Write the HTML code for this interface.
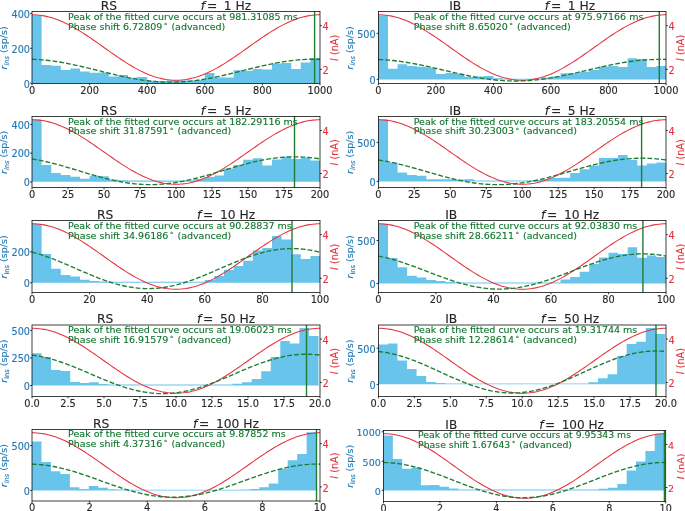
<!DOCTYPE html>
<html><head><meta charset="utf-8"><title>Phase response</title>
<style>html,body{margin:0;padding:0;background:#fff;width:685px;height:511px;overflow:hidden}svg{display:block}text{stroke-width:0.22px;stroke-opacity:0.55}</style>
</head><body>
<svg width="685" height="511" viewBox="0 0 685 511" font-family="'DejaVu Sans', 'Liberation Sans', sans-serif">
<g><path d="M32 15.3h9.6v67.9h-9.6zM41.6 65.1h9.6v18.1h-9.6zM51.2 65.7h9.6v17.5h-9.6zM60.8 69.9h9.6v13.3h-9.6zM70.4 68.6h9.6v14.6h-9.6zM80 71.4h9.6v11.8h-9.6zM89.6 72.8h9.6v10.4h-9.6zM99.2 72.5h9.6v10.7h-9.6zM108.8 76.5h9.6v6.7h-9.6zM118.4 75h9.6v8.2h-9.6zM128 77.8h9.6v5.4h-9.6zM137.6 76.9h9.6v6.3h-9.6zM147.2 80.7h9.6v2.5h-9.6zM156.8 81.1h9.6v2.1h-9.6zM166.4 80.3h9.6v2.9h-9.6zM176 80.3h9.6v2.9h-9.6zM185.6 80.5h9.6v2.7h-9.6zM195.2 79.9h9.6v3.3h-9.6zM204.8 73.1h9.6v10.1h-9.6zM214.4 77.5h9.6v5.7h-9.6zM224 77.6h9.6v5.6h-9.6zM233.6 70.2h9.6v13h-9.6zM243.2 70.8h9.6v12.4h-9.6zM252.8 68.9h9.6v14.3h-9.6zM262.4 69.6h9.6v13.6h-9.6zM272 63.4h9.6v19.8h-9.6zM281.6 63.1h9.6v20.1h-9.6zM291.2 68.9h9.6v14.3h-9.6zM300.8 62.6h9.6v20.6h-9.6zM310.4 58.2h9.6v25h-9.6z" fill="#68c4eb"/>
<polyline points="32,14.77 34.4,14.82 36.8,14.95 39.2,15.18 41.6,15.49 44,15.89 46.4,16.37 48.8,16.95 51.2,17.6 53.6,18.34 56,19.16 58.4,20.05 60.8,21.02 63.2,22.07 65.6,23.18 68,24.36 70.4,25.6 72.8,26.9 75.2,28.26 77.6,29.68 80,31.14 82.4,32.64 84.8,34.19 87.2,35.77 89.6,37.39 92,39.03 94.4,40.7 96.8,42.38 99.2,44.08 101.6,45.79 104,47.5 106.4,49.21 108.8,50.92 111.2,52.62 113.6,54.3 116,55.97 118.4,57.61 120.8,59.23 123.2,60.81 125.6,62.36 128,63.86 130.4,65.32 132.8,66.74 135.2,68.1 137.6,69.4 140,70.64 142.4,71.82 144.8,72.93 147.2,73.98 149.6,74.95 152,75.84 154.4,76.66 156.8,77.4 159.2,78.05 161.6,78.63 164,79.11 166.4,79.51 168.8,79.82 171.2,80.05 173.6,80.18 176,80.23 178.4,80.18 180.8,80.05 183.2,79.82 185.6,79.51 188,79.11 190.4,78.63 192.8,78.05 195.2,77.4 197.6,76.66 200,75.84 202.4,74.95 204.8,73.98 207.2,72.93 209.6,71.82 212,70.64 214.4,69.4 216.8,68.1 219.2,66.74 221.6,65.32 224,63.86 226.4,62.36 228.8,60.81 231.2,59.23 233.6,57.61 236,55.97 238.4,54.3 240.8,52.62 243.2,50.92 245.6,49.21 248,47.5 250.4,45.79 252.8,44.08 255.2,42.38 257.6,40.7 260,39.03 262.4,37.39 264.8,35.77 267.2,34.19 269.6,32.64 272,31.14 274.4,29.68 276.8,28.26 279.2,26.9 281.6,25.6 284,24.36 286.4,23.18 288.8,22.07 291.2,21.02 293.6,20.05 296,19.16 298.4,18.34 300.8,17.6 303.2,16.95 305.6,16.37 308,15.89 310.4,15.49 312.8,15.18 315.2,14.95 317.6,14.82 320,14.77" fill="none" stroke="#e5323c" stroke-width="1.05"/>
<polyline points="32,59.28 34.4,59.37 36.8,59.48 39.2,59.63 41.6,59.81 44,60.02 46.4,60.26 48.8,60.52 51.2,60.82 53.6,61.14 56,61.49 58.4,61.86 60.8,62.26 63.2,62.68 65.6,63.12 68,63.58 70.4,64.06 72.8,64.56 75.2,65.08 77.6,65.61 80,66.16 82.4,66.72 84.8,67.29 87.2,67.87 89.6,68.46 92,69.05 94.4,69.65 96.8,70.25 99.2,70.85 101.6,71.45 104,72.05 106.4,72.65 108.8,73.24 111.2,73.82 113.6,74.4 116,74.96 118.4,75.51 120.8,76.05 123.2,76.58 125.6,77.09 128,77.58 130.4,78.05 132.8,78.51 135.2,78.94 137.6,79.35 140,79.73 142.4,80.09 144.8,80.43 147.2,80.73 149.6,81.01 152,81.27 154.4,81.49 156.8,81.68 159.2,81.85 161.6,81.98 164,82.08 166.4,82.15 168.8,82.19 171.2,82.2 173.6,82.18 176,82.12 178.4,82.03 180.8,81.92 183.2,81.77 185.6,81.59 188,81.38 190.4,81.14 192.8,80.88 195.2,80.58 197.6,80.26 200,79.91 202.4,79.54 204.8,79.14 207.2,78.72 209.6,78.28 212,77.82 214.4,77.34 216.8,76.84 219.2,76.32 221.6,75.79 224,75.24 226.4,74.68 228.8,74.11 231.2,73.53 233.6,72.94 236,72.35 238.4,71.75 240.8,71.15 243.2,70.55 245.6,69.95 248,69.35 250.4,68.75 252.8,68.16 255.2,67.58 257.6,67 260,66.44 262.4,65.89 264.8,65.35 267.2,64.82 269.6,64.31 272,63.82 274.4,63.35 276.8,62.89 279.2,62.46 281.6,62.05 284,61.67 286.4,61.31 288.8,60.97 291.2,60.67 293.6,60.39 296,60.13 298.4,59.91 300.8,59.72 303.2,59.55 305.6,59.42 308,59.32 310.4,59.25 312.8,59.21 315.2,59.2 317.6,59.22 320,59.28" fill="none" stroke="#1e7d32" stroke-width="1.35" stroke-dasharray="4.8 2.07"/>
<line x1="314.6" y1="11.5" x2="314.6" y2="83.5" stroke="#1e7d32" stroke-width="1.4"/>
<rect x="32" y="11.5" width="288" height="72" fill="none" stroke="#000" stroke-width="0.75"/>
<line x1="32" y1="83.5" x2="32" y2="85.3" stroke="#000" stroke-width="0.8"/>
<text x="32" y="93.8" text-anchor="middle" font-size="9.8" fill="#262626" stroke="#262626">0</text>
<line x1="89.6" y1="83.5" x2="89.6" y2="85.3" stroke="#000" stroke-width="0.8"/>
<text x="89.6" y="93.8" text-anchor="middle" font-size="9.8" fill="#262626" stroke="#262626">200</text>
<line x1="147.2" y1="83.5" x2="147.2" y2="85.3" stroke="#000" stroke-width="0.8"/>
<text x="147.2" y="93.8" text-anchor="middle" font-size="9.8" fill="#262626" stroke="#262626">400</text>
<line x1="204.8" y1="83.5" x2="204.8" y2="85.3" stroke="#000" stroke-width="0.8"/>
<text x="204.8" y="93.8" text-anchor="middle" font-size="9.8" fill="#262626" stroke="#262626">600</text>
<line x1="262.4" y1="83.5" x2="262.4" y2="85.3" stroke="#000" stroke-width="0.8"/>
<text x="262.4" y="93.8" text-anchor="middle" font-size="9.8" fill="#262626" stroke="#262626">800</text>
<line x1="320" y1="83.5" x2="320" y2="85.3" stroke="#000" stroke-width="0.8"/>
<text x="320" y="93.8" text-anchor="middle" font-size="9.8" fill="#262626" stroke="#262626">1000</text>
<line x1="30.2" y1="83.2" x2="32" y2="83.2" stroke="#000" stroke-width="0.8"/>
<text x="30" y="87.5" text-anchor="end" font-size="9.7" fill="#1f77b4" stroke="#1f77b4">0</text>
<line x1="30.2" y1="48.3" x2="32" y2="48.3" stroke="#000" stroke-width="0.8"/>
<text x="30" y="52.6" text-anchor="end" font-size="9.7" fill="#1f77b4" stroke="#1f77b4">200</text>
<line x1="30.2" y1="13.3" x2="32" y2="13.3" stroke="#000" stroke-width="0.8"/>
<text x="30" y="17.6" text-anchor="end" font-size="9.7" fill="#1f77b4" stroke="#1f77b4">400</text>
<line x1="320" y1="25.68" x2="321.8" y2="25.68" stroke="#000" stroke-width="0.8"/>
<text x="322.4" y="30.48" font-size="9.7" fill="#e5323c" stroke="#e5323c">4</text>
<line x1="320" y1="69.32" x2="321.8" y2="69.32" stroke="#000" stroke-width="0.8"/>
<text x="322.4" y="74.12" font-size="9.7" fill="#e5323c" stroke="#e5323c">2</text>
<text transform="translate(6.9 47.9) rotate(-90)" text-anchor="middle" font-size="9.5" fill="#1f77b4" stroke="#1f77b4"><tspan font-style="italic">r</tspan><tspan font-style="italic" font-size="6.65" dy="2.4">ins</tspan><tspan dy="-2.4"> (sp/s)</tspan></text>
<text transform="translate(338 47.9) rotate(-90)" text-anchor="middle" font-size="9.7" fill="#e5323c" stroke="#e5323c"><tspan font-style="italic">I</tspan> (nA)</text>
<text x="100.8" y="9.6" font-size="12.3" fill="#262626" stroke="#262626">RS</text>
<text x="200.8" y="9.6" font-size="12.3" fill="#262626" stroke="#262626" font-style="italic">f</text>
<text x="206.9" y="9.6" font-size="12.3" fill="#262626" stroke="#262626">=</text>
<text x="223.8" y="9.6" font-size="12.3" fill="#262626" stroke="#262626">1 Hz</text>
<text x="68.1" y="20" font-size="9.5" fill="#0f752d" stroke="#0f752d">Peak of the fitted curve occurs at 981.31085 ms</text>
<text x="68.1" y="29.8" font-size="9.5" fill="#0f752d" stroke="#0f752d" xml:space="preserve">Phase shift 6.72809<tspan font-size="6.8" dx="1.2" dy="-3.6">∘</tspan><tspan dx="0.6" dy="3.6"> (advanced)</tspan></text></g>
<g><path d="M32 119.5h9.6v62.3h-9.6zM41.6 164.9h9.6v16.9h-9.6zM51.2 173.1h9.6v8.7h-9.6zM60.8 175h9.6v6.8h-9.6zM70.4 176.8h9.6v5h-9.6zM80 178.7h9.6v3.1h-9.6zM89.6 175.8h9.6v6h-9.6zM99.2 176.2h9.6v5.6h-9.6zM108.8 179.5h9.6v2.3h-9.6zM118.4 180.2h9.6v1.6h-9.6zM128 180.4h9.6v1.4h-9.6zM137.6 180.4h9.6v1.4h-9.6zM147.2 180.4h9.6v1.4h-9.6zM156.8 180.4h9.6v1.4h-9.6zM166.4 180.5h9.6v1.3h-9.6zM176 180.5h9.6v1.3h-9.6zM185.6 180.2h9.6v1.6h-9.6zM195.2 178.9h9.6v2.9h-9.6zM204.8 177h9.6v4.8h-9.6zM214.4 175.5h9.6v6.3h-9.6zM224 168.5h9.6v13.3h-9.6zM233.6 165.1h9.6v16.7h-9.6zM243.2 159.7h9.6v22.1h-9.6zM252.8 158.2h9.6v23.6h-9.6zM262.4 165.5h9.6v16.3h-9.6zM272 159.4h9.6v22.4h-9.6zM281.6 156.8h9.6v25h-9.6zM291.2 159h9.6v22.8h-9.6zM300.8 157.5h9.6v24.3h-9.6zM310.4 160.4h9.6v21.4h-9.6z" fill="#68c4eb"/>
<polyline points="32,119.73 34.4,119.77 36.8,119.9 39.2,120.12 41.6,120.43 44,120.83 46.4,121.31 48.8,121.87 51.2,122.52 53.6,123.24 56,124.05 58.4,124.93 60.8,125.89 63.2,126.92 65.6,128.02 68,129.18 70.4,130.41 72.8,131.69 75.2,133.03 77.6,134.42 80,135.86 82.4,137.35 84.8,138.87 87.2,140.43 89.6,142.03 92,143.65 94.4,145.29 96.8,146.95 99.2,148.63 101.6,150.31 104,152 106.4,153.69 108.8,155.37 111.2,157.05 113.6,158.71 116,160.35 118.4,161.97 120.8,163.57 123.2,165.13 125.6,166.65 128,168.14 130.4,169.58 132.8,170.97 135.2,172.31 137.6,173.59 140,174.82 142.4,175.98 144.8,177.08 147.2,178.11 149.6,179.07 152,179.95 154.4,180.76 156.8,181.48 159.2,182.13 161.6,182.69 164,183.17 166.4,183.57 168.8,183.88 171.2,184.1 173.6,184.23 176,184.27 178.4,184.23 180.8,184.1 183.2,183.88 185.6,183.57 188,183.17 190.4,182.69 192.8,182.13 195.2,181.48 197.6,180.76 200,179.95 202.4,179.07 204.8,178.11 207.2,177.08 209.6,175.98 212,174.82 214.4,173.59 216.8,172.31 219.2,170.97 221.6,169.58 224,168.14 226.4,166.65 228.8,165.13 231.2,163.57 233.6,161.97 236,160.35 238.4,158.71 240.8,157.05 243.2,155.37 245.6,153.69 248,152 250.4,150.31 252.8,148.63 255.2,146.95 257.6,145.29 260,143.65 262.4,142.03 264.8,140.43 267.2,138.87 269.6,137.35 272,135.86 274.4,134.42 276.8,133.03 279.2,131.69 281.6,130.41 284,129.18 286.4,128.02 288.8,126.92 291.2,125.89 293.6,124.93 296,124.05 298.4,123.24 300.8,122.52 303.2,121.87 305.6,121.31 308,120.83 310.4,120.43 312.8,120.12 315.2,119.9 317.6,119.77 320,119.73" fill="none" stroke="#e5323c" stroke-width="1.05"/>
<polyline points="32,158.9 34.4,159.3 36.8,159.73 39.2,160.19 41.6,160.68 44,161.2 46.4,161.74 48.8,162.31 51.2,162.9 53.6,163.51 56,164.15 58.4,164.8 60.8,165.46 63.2,166.15 65.6,166.84 68,167.54 70.4,168.26 72.8,168.98 75.2,169.7 77.6,170.43 80,171.15 82.4,171.88 84.8,172.6 87.2,173.32 89.6,174.03 92,174.73 94.4,175.43 96.8,176.1 99.2,176.77 101.6,177.41 104,178.04 106.4,178.65 108.8,179.23 111.2,179.8 113.6,180.33 116,180.85 118.4,181.33 120.8,181.78 123.2,182.21 125.6,182.6 128,182.96 130.4,183.28 132.8,183.58 135.2,183.83 137.6,184.05 140,184.24 142.4,184.38 144.8,184.49 147.2,184.56 149.6,184.6 152,184.59 154.4,184.55 156.8,184.47 159.2,184.35 161.6,184.19 164,184 166.4,183.77 168.8,183.51 171.2,183.21 173.6,182.87 176,182.5 178.4,182.1 180.8,181.67 183.2,181.21 185.6,180.72 188,180.2 190.4,179.66 192.8,179.09 195.2,178.5 197.6,177.89 200,177.25 202.4,176.6 204.8,175.94 207.2,175.25 209.6,174.56 212,173.86 214.4,173.14 216.8,172.42 219.2,171.7 221.6,170.97 224,170.25 226.4,169.52 228.8,168.8 231.2,168.08 233.6,167.37 236,166.67 238.4,165.97 240.8,165.3 243.2,164.63 245.6,163.99 248,163.36 250.4,162.75 252.8,162.17 255.2,161.6 257.6,161.07 260,160.55 262.4,160.07 264.8,159.62 267.2,159.19 269.6,158.8 272,158.44 274.4,158.12 276.8,157.82 279.2,157.57 281.6,157.35 284,157.16 286.4,157.02 288.8,156.91 291.2,156.84 293.6,156.8 296,156.81 298.4,156.85 300.8,156.93 303.2,157.05 305.6,157.21 308,157.4 310.4,157.63 312.8,157.89 315.2,158.19 317.6,158.53 320,158.9" fill="none" stroke="#1e7d32" stroke-width="1.35" stroke-dasharray="4.8 2.07"/>
<line x1="294.5" y1="116.5" x2="294.5" y2="187.5" stroke="#1e7d32" stroke-width="1.4"/>
<rect x="32" y="116.5" width="288" height="71" fill="none" stroke="#000" stroke-width="0.75"/>
<line x1="32" y1="187.5" x2="32" y2="189.3" stroke="#000" stroke-width="0.8"/>
<text x="32" y="197.8" text-anchor="middle" font-size="9.8" fill="#262626" stroke="#262626">0</text>
<line x1="68" y1="187.5" x2="68" y2="189.3" stroke="#000" stroke-width="0.8"/>
<text x="68" y="197.8" text-anchor="middle" font-size="9.8" fill="#262626" stroke="#262626">25</text>
<line x1="104" y1="187.5" x2="104" y2="189.3" stroke="#000" stroke-width="0.8"/>
<text x="104" y="197.8" text-anchor="middle" font-size="9.8" fill="#262626" stroke="#262626">50</text>
<line x1="140" y1="187.5" x2="140" y2="189.3" stroke="#000" stroke-width="0.8"/>
<text x="140" y="197.8" text-anchor="middle" font-size="9.8" fill="#262626" stroke="#262626">75</text>
<line x1="176" y1="187.5" x2="176" y2="189.3" stroke="#000" stroke-width="0.8"/>
<text x="176" y="197.8" text-anchor="middle" font-size="9.8" fill="#262626" stroke="#262626">100</text>
<line x1="212" y1="187.5" x2="212" y2="189.3" stroke="#000" stroke-width="0.8"/>
<text x="212" y="197.8" text-anchor="middle" font-size="9.8" fill="#262626" stroke="#262626">125</text>
<line x1="248" y1="187.5" x2="248" y2="189.3" stroke="#000" stroke-width="0.8"/>
<text x="248" y="197.8" text-anchor="middle" font-size="9.8" fill="#262626" stroke="#262626">150</text>
<line x1="284" y1="187.5" x2="284" y2="189.3" stroke="#000" stroke-width="0.8"/>
<text x="284" y="197.8" text-anchor="middle" font-size="9.8" fill="#262626" stroke="#262626">175</text>
<line x1="320" y1="187.5" x2="320" y2="189.3" stroke="#000" stroke-width="0.8"/>
<text x="320" y="197.8" text-anchor="middle" font-size="9.8" fill="#262626" stroke="#262626">200</text>
<line x1="30.2" y1="182" x2="32" y2="182" stroke="#000" stroke-width="0.8"/>
<text x="30" y="186.3" text-anchor="end" font-size="9.7" fill="#1f77b4" stroke="#1f77b4">0</text>
<line x1="30.2" y1="153.1" x2="32" y2="153.1" stroke="#000" stroke-width="0.8"/>
<text x="30" y="157.4" text-anchor="end" font-size="9.7" fill="#1f77b4" stroke="#1f77b4">200</text>
<line x1="30.2" y1="124.3" x2="32" y2="124.3" stroke="#000" stroke-width="0.8"/>
<text x="30" y="128.6" text-anchor="end" font-size="9.7" fill="#1f77b4" stroke="#1f77b4">400</text>
<line x1="320" y1="130.49" x2="321.8" y2="130.49" stroke="#000" stroke-width="0.8"/>
<text x="322.4" y="135.29" font-size="9.7" fill="#e5323c" stroke="#e5323c">4</text>
<line x1="320" y1="173.51" x2="321.8" y2="173.51" stroke="#000" stroke-width="0.8"/>
<text x="322.4" y="178.31" font-size="9.7" fill="#e5323c" stroke="#e5323c">2</text>
<text transform="translate(6.9 152.4) rotate(-90)" text-anchor="middle" font-size="9.5" fill="#1f77b4" stroke="#1f77b4"><tspan font-style="italic">r</tspan><tspan font-style="italic" font-size="6.65" dy="2.4">ins</tspan><tspan dy="-2.4"> (sp/s)</tspan></text>
<text transform="translate(338 152.4) rotate(-90)" text-anchor="middle" font-size="9.7" fill="#e5323c" stroke="#e5323c"><tspan font-style="italic">I</tspan> (nA)</text>
<text x="100.8" y="114.6" font-size="12.3" fill="#262626" stroke="#262626">RS</text>
<text x="200.8" y="114.6" font-size="12.3" fill="#262626" stroke="#262626" font-style="italic">f</text>
<text x="206.9" y="114.6" font-size="12.3" fill="#262626" stroke="#262626">=</text>
<text x="223.8" y="114.6" font-size="12.3" fill="#262626" stroke="#262626">5 Hz</text>
<text x="68.1" y="124.5" font-size="9.5" fill="#0f752d" stroke="#0f752d">Peak of the fitted curve occurs at 182.29116 ms</text>
<text x="68.1" y="134.3" font-size="9.5" fill="#0f752d" stroke="#0f752d" xml:space="preserve">Phase shift 31.87591<tspan font-size="6.8" dx="1.2" dy="-3.6">∘</tspan><tspan dx="0.6" dy="3.6"> (advanced)</tspan></text></g>
<g><path d="M32 223.8h9.6v58.9h-9.6zM41.6 254h9.6v28.7h-9.6zM51.2 268.8h9.6v13.9h-9.6zM60.8 274.9h9.6v7.8h-9.6zM70.4 276.5h9.6v6.2h-9.6zM80 279.8h9.6v2.9h-9.6zM89.6 280.9h9.6v1.8h-9.6zM99.2 281.5h9.6v1.2h-9.6zM108.8 281.8h9.6v0.9h-9.6zM118.4 281.8h9.6v0.9h-9.6zM128 281.8h9.6v0.9h-9.6zM137.6 281.8h9.6v0.9h-9.6zM147.2 281.8h9.6v0.9h-9.6zM156.8 281.8h9.6v0.9h-9.6zM166.4 281.8h9.6v0.9h-9.6zM176 281.8h9.6v0.9h-9.6zM185.6 281.8h9.6v0.9h-9.6zM195.2 281.8h9.6v0.9h-9.6zM204.8 280.1h9.6v2.6h-9.6zM214.4 276h9.6v6.7h-9.6zM224 270.1h9.6v12.6h-9.6zM233.6 265.9h9.6v16.8h-9.6zM243.2 260.8h9.6v21.9h-9.6zM252.8 250.5h9.6v32.2h-9.6zM262.4 248.1h9.6v34.6h-9.6zM272 236h9.6v46.7h-9.6zM281.6 239.6h9.6v43.1h-9.6zM291.2 254.2h9.6v28.5h-9.6zM300.8 258.9h9.6v23.8h-9.6zM310.4 255.9h9.6v26.8h-9.6z" fill="#68c4eb"/>
<polyline points="32,223.77 34.4,223.82 36.8,223.95 39.2,224.18 41.6,224.49 44,224.89 46.4,225.37 48.8,225.95 51.2,226.6 53.6,227.34 56,228.16 58.4,229.05 60.8,230.02 63.2,231.07 65.6,232.18 68,233.36 70.4,234.6 72.8,235.9 75.2,237.26 77.6,238.68 80,240.14 82.4,241.64 84.8,243.19 87.2,244.77 89.6,246.39 92,248.03 94.4,249.7 96.8,251.38 99.2,253.08 101.6,254.79 104,256.5 106.4,258.21 108.8,259.92 111.2,261.62 113.6,263.3 116,264.97 118.4,266.61 120.8,268.23 123.2,269.81 125.6,271.36 128,272.86 130.4,274.32 132.8,275.74 135.2,277.1 137.6,278.4 140,279.64 142.4,280.82 144.8,281.93 147.2,282.98 149.6,283.95 152,284.84 154.4,285.66 156.8,286.4 159.2,287.05 161.6,287.63 164,288.11 166.4,288.51 168.8,288.82 171.2,289.05 173.6,289.18 176,289.23 178.4,289.18 180.8,289.05 183.2,288.82 185.6,288.51 188,288.11 190.4,287.63 192.8,287.05 195.2,286.4 197.6,285.66 200,284.84 202.4,283.95 204.8,282.98 207.2,281.93 209.6,280.82 212,279.64 214.4,278.4 216.8,277.1 219.2,275.74 221.6,274.32 224,272.86 226.4,271.36 228.8,269.81 231.2,268.23 233.6,266.61 236,264.97 238.4,263.3 240.8,261.62 243.2,259.92 245.6,258.21 248,256.5 250.4,254.79 252.8,253.08 255.2,251.38 257.6,249.7 260,248.03 262.4,246.39 264.8,244.77 267.2,243.19 269.6,241.64 272,240.14 274.4,238.68 276.8,237.26 279.2,235.9 281.6,234.6 284,233.36 286.4,232.18 288.8,231.07 291.2,230.02 293.6,229.05 296,228.16 298.4,227.34 300.8,226.6 303.2,225.95 305.6,225.37 308,224.89 310.4,224.49 312.8,224.18 315.2,223.95 317.6,223.82 320,223.77" fill="none" stroke="#e5323c" stroke-width="1.05"/>
<polyline points="32,252.22 34.4,252.84 36.8,253.51 39.2,254.21 41.6,254.96 44,255.74 46.4,256.56 48.8,257.42 51.2,258.3 53.6,259.21 56,260.15 58.4,261.11 60.8,262.09 63.2,263.09 65.6,264.1 68,265.13 70.4,266.16 72.8,267.2 75.2,268.25 77.6,269.3 80,270.34 82.4,271.38 84.8,272.42 87.2,273.44 89.6,274.45 92,275.44 94.4,276.41 96.8,277.37 99.2,278.3 101.6,279.2 104,280.07 106.4,280.91 108.8,281.72 111.2,282.49 113.6,283.23 116,283.92 118.4,284.57 120.8,285.18 123.2,285.74 125.6,286.26 128,286.73 130.4,287.14 132.8,287.51 135.2,287.83 137.6,288.09 140,288.3 142.4,288.45 144.8,288.55 147.2,288.6 149.6,288.59 152,288.52 154.4,288.41 156.8,288.23 159.2,288.01 161.6,287.73 164,287.39 166.4,287.01 168.8,286.58 171.2,286.09 173.6,285.56 176,284.98 178.4,284.36 180.8,283.69 183.2,282.99 185.6,282.24 188,281.46 190.4,280.64 192.8,279.78 195.2,278.9 197.6,277.99 200,277.05 202.4,276.09 204.8,275.11 207.2,274.11 209.6,273.1 212,272.07 214.4,271.04 216.8,270 219.2,268.95 221.6,267.9 224,266.86 226.4,265.82 228.8,264.78 231.2,263.76 233.6,262.75 236,261.76 238.4,260.79 240.8,259.83 243.2,258.9 245.6,258 248,257.13 250.4,256.29 252.8,255.48 255.2,254.71 257.6,253.97 260,253.28 262.4,252.63 264.8,252.02 267.2,251.46 269.6,250.94 272,250.47 274.4,250.06 276.8,249.69 279.2,249.37 281.6,249.11 284,248.9 286.4,248.75 288.8,248.65 291.2,248.6 293.6,248.61 296,248.68 298.4,248.79 300.8,248.97 303.2,249.19 305.6,249.47 308,249.81 310.4,250.19 312.8,250.62 315.2,251.11 317.6,251.64 320,252.22" fill="none" stroke="#1e7d32" stroke-width="1.35" stroke-dasharray="4.8 2.07"/>
<line x1="292" y1="220.5" x2="292" y2="292.5" stroke="#1e7d32" stroke-width="1.4"/>
<rect x="32" y="220.5" width="288" height="72" fill="none" stroke="#000" stroke-width="0.75"/>
<line x1="32" y1="292.5" x2="32" y2="294.3" stroke="#000" stroke-width="0.8"/>
<text x="32" y="302.8" text-anchor="middle" font-size="9.8" fill="#262626" stroke="#262626">0</text>
<line x1="89.6" y1="292.5" x2="89.6" y2="294.3" stroke="#000" stroke-width="0.8"/>
<text x="89.6" y="302.8" text-anchor="middle" font-size="9.8" fill="#262626" stroke="#262626">20</text>
<line x1="147.2" y1="292.5" x2="147.2" y2="294.3" stroke="#000" stroke-width="0.8"/>
<text x="147.2" y="302.8" text-anchor="middle" font-size="9.8" fill="#262626" stroke="#262626">40</text>
<line x1="204.8" y1="292.5" x2="204.8" y2="294.3" stroke="#000" stroke-width="0.8"/>
<text x="204.8" y="302.8" text-anchor="middle" font-size="9.8" fill="#262626" stroke="#262626">60</text>
<line x1="262.4" y1="292.5" x2="262.4" y2="294.3" stroke="#000" stroke-width="0.8"/>
<text x="262.4" y="302.8" text-anchor="middle" font-size="9.8" fill="#262626" stroke="#262626">80</text>
<line x1="320" y1="292.5" x2="320" y2="294.3" stroke="#000" stroke-width="0.8"/>
<text x="320" y="302.8" text-anchor="middle" font-size="9.8" fill="#262626" stroke="#262626">100</text>
<line x1="30.2" y1="282.8" x2="32" y2="282.8" stroke="#000" stroke-width="0.8"/>
<text x="30" y="287.1" text-anchor="end" font-size="9.7" fill="#1f77b4" stroke="#1f77b4">0</text>
<line x1="30.2" y1="251.8" x2="32" y2="251.8" stroke="#000" stroke-width="0.8"/>
<text x="30" y="256.1" text-anchor="end" font-size="9.7" fill="#1f77b4" stroke="#1f77b4">200</text>
<line x1="320" y1="234.68" x2="321.8" y2="234.68" stroke="#000" stroke-width="0.8"/>
<text x="322.4" y="239.48" font-size="9.7" fill="#e5323c" stroke="#e5323c">4</text>
<line x1="320" y1="278.32" x2="321.8" y2="278.32" stroke="#000" stroke-width="0.8"/>
<text x="322.4" y="283.12" font-size="9.7" fill="#e5323c" stroke="#e5323c">2</text>
<text transform="translate(6.9 256.9) rotate(-90)" text-anchor="middle" font-size="9.5" fill="#1f77b4" stroke="#1f77b4"><tspan font-style="italic">r</tspan><tspan font-style="normal" font-size="6.65" dy="2.4">ins</tspan><tspan dy="-2.4"> (sp/s)</tspan></text>
<text transform="translate(338 256.9) rotate(-90)" text-anchor="middle" font-size="9.7" fill="#e5323c" stroke="#e5323c"><tspan font-style="italic">I</tspan> (nA)</text>
<text x="96.89" y="218.6" font-size="12.3" fill="#262626" stroke="#262626">RS</text>
<text x="196.89" y="218.6" font-size="12.3" fill="#262626" stroke="#262626" font-style="italic">f</text>
<text x="202.99" y="218.6" font-size="12.3" fill="#262626" stroke="#262626">=</text>
<text x="219.89" y="218.6" font-size="12.3" fill="#262626" stroke="#262626">10 Hz</text>
<text x="68.1" y="228.7" font-size="9.5" fill="#0f752d" stroke="#0f752d">Peak of the fitted curve occurs at 90.28837 ms</text>
<text x="68.1" y="238.5" font-size="9.5" fill="#0f752d" stroke="#0f752d" xml:space="preserve">Phase shift 34.96186<tspan font-size="6.8" dx="1.2" dy="-3.6">∘</tspan><tspan dx="0.6" dy="3.6"> (advanced)</tspan></text></g>
<g><path d="M32 353.3h9.55v32.1h-9.55zM41.55 357.1h9.55v28.3h-9.55zM51.1 370.1h9.55v15.3h-9.55zM60.65 370.9h9.55v14.5h-9.55zM70.2 382h9.55v3.4h-9.55zM79.75 383.1h9.55v2.3h-9.55zM89.3 382.3h9.55v3.1h-9.55zM98.85 384.1h9.55v1.3h-9.55zM108.4 384.4h9.55v1h-9.55zM117.95 384.5h9.55v0.9h-9.55zM127.5 384.5h9.55v0.9h-9.55zM137.05 384.5h9.55v0.9h-9.55zM146.6 384.5h9.55v0.9h-9.55zM156.15 384.5h9.55v0.9h-9.55zM165.7 384.5h9.55v0.9h-9.55zM175.25 384.5h9.55v0.9h-9.55zM184.8 384.5h9.55v0.9h-9.55zM194.35 384.5h9.55v0.9h-9.55zM203.9 384.5h9.55v0.9h-9.55zM213.45 384.5h9.55v0.9h-9.55zM223 384.5h9.55v0.9h-9.55zM232.55 383.8h9.55v1.6h-9.55zM242.1 382.3h9.55v3.1h-9.55zM251.65 378.9h9.55v6.5h-9.55zM261.2 371.2h9.55v14.2h-9.55zM270.75 357.1h9.55v28.3h-9.55zM280.3 341.1h9.55v44.3h-9.55zM289.85 343.4h9.55v42h-9.55zM299.4 328.1h9.55v57.3h-9.55zM308.95 336h9.55v49.4h-9.55z" fill="#68c4eb"/>
<polyline points="32,328.25 34.4,328.29 36.8,328.43 39.2,328.65 41.6,328.96 44,329.36 46.4,329.84 48.8,330.41 51.2,331.06 53.6,331.79 56,332.6 58.4,333.49 60.8,334.46 63.2,335.49 65.6,336.6 68,337.77 70.4,339 72.8,340.3 75.2,341.65 77.6,343.05 80,344.5 82.4,346 84.8,347.53 87.2,349.1 89.6,350.71 92,352.34 94.4,353.99 96.8,355.67 99.2,357.35 101.6,359.05 104,360.75 106.4,362.45 108.8,364.15 111.2,365.83 113.6,367.51 116,369.16 118.4,370.79 120.8,372.4 123.2,373.97 125.6,375.5 128,377 130.4,378.45 132.8,379.85 135.2,381.2 137.6,382.5 140,383.73 142.4,384.9 144.8,386.01 147.2,387.04 149.6,388.01 152,388.9 154.4,389.71 156.8,390.44 159.2,391.09 161.6,391.66 164,392.14 166.4,392.54 168.8,392.85 171.2,393.07 173.6,393.21 176,393.25 178.4,393.21 180.8,393.07 183.2,392.85 185.6,392.54 188,392.14 190.4,391.66 192.8,391.09 195.2,390.44 197.6,389.71 200,388.9 202.4,388.01 204.8,387.04 207.2,386.01 209.6,384.9 212,383.73 214.4,382.5 216.8,381.2 219.2,379.85 221.6,378.45 224,377 226.4,375.5 228.8,373.97 231.2,372.4 233.6,370.79 236,369.16 238.4,367.51 240.8,365.83 243.2,364.15 245.6,362.45 248,360.75 250.4,359.05 252.8,357.35 255.2,355.67 257.6,353.99 260,352.34 262.4,350.71 264.8,349.1 267.2,347.53 269.6,346 272,344.5 274.4,343.05 276.8,341.65 279.2,340.3 281.6,339 284,337.77 286.4,336.6 288.8,335.49 291.2,334.46 293.6,333.49 296,332.6 298.4,331.79 300.8,331.06 303.2,330.41 305.6,329.84 308,329.36 310.4,328.96 312.8,328.65 315.2,328.43 317.6,328.29 320,328.25" fill="none" stroke="#e5323c" stroke-width="1.05"/>
<polyline points="32,355.05 34.4,355.37 36.8,355.75 39.2,356.17 41.6,356.65 44,357.17 46.4,357.74 48.8,358.35 51.2,359 53.6,359.7 56,360.43 58.4,361.2 60.8,362.01 63.2,362.85 65.6,363.72 68,364.61 70.4,365.54 72.8,366.48 75.2,367.45 77.6,368.43 80,369.43 82.4,370.44 84.8,371.46 87.2,372.48 89.6,373.51 92,374.54 94.4,375.57 96.8,376.6 99.2,377.62 101.6,378.62 104,379.62 106.4,380.6 108.8,381.56 111.2,382.5 113.6,383.41 116,384.3 118.4,385.16 120.8,385.99 123.2,386.79 125.6,387.55 128,388.28 130.4,388.96 132.8,389.61 135.2,390.21 137.6,390.76 140,391.27 142.4,391.74 144.8,392.15 147.2,392.51 149.6,392.82 152,393.09 154.4,393.29 156.8,393.45 159.2,393.55 161.6,393.6 164,393.59 166.4,393.53 168.8,393.41 171.2,393.25 173.6,393.03 176,392.75 178.4,392.43 180.8,392.05 183.2,391.63 185.6,391.15 188,390.63 190.4,390.06 192.8,389.45 195.2,388.8 197.6,388.1 200,387.37 202.4,386.6 204.8,385.79 207.2,384.95 209.6,384.08 212,383.19 214.4,382.26 216.8,381.32 219.2,380.35 221.6,379.37 224,378.37 226.4,377.36 228.8,376.34 231.2,375.32 233.6,374.29 236,373.26 238.4,372.23 240.8,371.2 243.2,370.18 245.6,369.18 248,368.18 250.4,367.2 252.8,366.24 255.2,365.3 257.6,364.39 260,363.5 262.4,362.64 264.8,361.81 267.2,361.01 269.6,360.25 272,359.52 274.4,358.84 276.8,358.19 279.2,357.59 281.6,357.04 284,356.53 286.4,356.06 288.8,355.65 291.2,355.29 293.6,354.98 296,354.71 298.4,354.51 300.8,354.35 303.2,354.25 305.6,354.2 308,354.21 310.4,354.27 312.8,354.39 315.2,354.55 317.6,354.77 320,355.05" fill="none" stroke="#1e7d32" stroke-width="1.35" stroke-dasharray="4.8 2.07"/>
<line x1="306.5" y1="325" x2="306.5" y2="396.5" stroke="#1e7d32" stroke-width="1.4"/>
<rect x="32" y="325" width="288" height="71.5" fill="none" stroke="#000" stroke-width="0.75"/>
<line x1="32" y1="396.5" x2="32" y2="398.3" stroke="#000" stroke-width="0.8"/>
<text x="32" y="406.8" text-anchor="middle" font-size="9.8" fill="#262626" stroke="#262626">0.0</text>
<line x1="68" y1="396.5" x2="68" y2="398.3" stroke="#000" stroke-width="0.8"/>
<text x="68" y="406.8" text-anchor="middle" font-size="9.8" fill="#262626" stroke="#262626">2.5</text>
<line x1="104" y1="396.5" x2="104" y2="398.3" stroke="#000" stroke-width="0.8"/>
<text x="104" y="406.8" text-anchor="middle" font-size="9.8" fill="#262626" stroke="#262626">5.0</text>
<line x1="140" y1="396.5" x2="140" y2="398.3" stroke="#000" stroke-width="0.8"/>
<text x="140" y="406.8" text-anchor="middle" font-size="9.8" fill="#262626" stroke="#262626">7.5</text>
<line x1="176" y1="396.5" x2="176" y2="398.3" stroke="#000" stroke-width="0.8"/>
<text x="176" y="406.8" text-anchor="middle" font-size="9.8" fill="#262626" stroke="#262626">10.0</text>
<line x1="212" y1="396.5" x2="212" y2="398.3" stroke="#000" stroke-width="0.8"/>
<text x="212" y="406.8" text-anchor="middle" font-size="9.8" fill="#262626" stroke="#262626">12.5</text>
<line x1="248" y1="396.5" x2="248" y2="398.3" stroke="#000" stroke-width="0.8"/>
<text x="248" y="406.8" text-anchor="middle" font-size="9.8" fill="#262626" stroke="#262626">15.0</text>
<line x1="284" y1="396.5" x2="284" y2="398.3" stroke="#000" stroke-width="0.8"/>
<text x="284" y="406.8" text-anchor="middle" font-size="9.8" fill="#262626" stroke="#262626">17.5</text>
<line x1="320" y1="396.5" x2="320" y2="398.3" stroke="#000" stroke-width="0.8"/>
<text x="320" y="406.8" text-anchor="middle" font-size="9.8" fill="#262626" stroke="#262626">20.0</text>
<line x1="30.2" y1="385.5" x2="32" y2="385.5" stroke="#000" stroke-width="0.8"/>
<text x="30" y="389.8" text-anchor="end" font-size="9.7" fill="#1f77b4" stroke="#1f77b4">0</text>
<line x1="30.2" y1="357.9" x2="32" y2="357.9" stroke="#000" stroke-width="0.8"/>
<text x="30" y="362.2" text-anchor="end" font-size="9.7" fill="#1f77b4" stroke="#1f77b4">250</text>
<line x1="30.2" y1="330.4" x2="32" y2="330.4" stroke="#000" stroke-width="0.8"/>
<text x="30" y="334.7" text-anchor="end" font-size="9.7" fill="#1f77b4" stroke="#1f77b4">500</text>
<line x1="320" y1="339.09" x2="321.8" y2="339.09" stroke="#000" stroke-width="0.8"/>
<text x="322.4" y="343.89" font-size="9.7" fill="#e5323c" stroke="#e5323c">4</text>
<line x1="320" y1="382.41" x2="321.8" y2="382.41" stroke="#000" stroke-width="0.8"/>
<text x="322.4" y="387.21" font-size="9.7" fill="#e5323c" stroke="#e5323c">2</text>
<text transform="translate(6.9 361.15) rotate(-90)" text-anchor="middle" font-size="9.5" fill="#1f77b4" stroke="#1f77b4"><tspan font-style="italic">r</tspan><tspan font-style="normal" font-size="6.65" dy="2.4">ins</tspan><tspan dy="-2.4"> (sp/s)</tspan></text>
<text transform="translate(338 361.15) rotate(-90)" text-anchor="middle" font-size="9.7" fill="#e5323c" stroke="#e5323c"><tspan font-style="italic">I</tspan> (nA)</text>
<text x="96.89" y="323.1" font-size="12.3" fill="#262626" stroke="#262626">RS</text>
<text x="196.89" y="323.1" font-size="12.3" fill="#262626" stroke="#262626" font-style="italic">f</text>
<text x="202.99" y="323.1" font-size="12.3" fill="#262626" stroke="#262626">=</text>
<text x="219.89" y="323.1" font-size="12.3" fill="#262626" stroke="#262626">50 Hz</text>
<text x="68.1" y="332.8" font-size="9.5" fill="#0f752d" stroke="#0f752d">Peak of the fitted curve occurs at 19.06023 ms</text>
<text x="68.1" y="342.6" font-size="9.5" fill="#0f752d" stroke="#0f752d" xml:space="preserve">Phase shift 16.91579<tspan font-size="6.8" dx="1.2" dy="-3.6">∘</tspan><tspan dx="0.6" dy="3.6"> (advanced)</tspan></text></g>
<g><path d="M32 441.5h9.47v49.1h-9.47zM41.47 462.1h9.47v28.5h-9.47zM50.94 471.3h9.47v19.3h-9.47zM60.41 474h9.47v16.6h-9.47zM69.88 487.3h9.47v3.3h-9.47zM79.35 489.1h9.47v1.5h-9.47zM88.82 486.1h9.47v4.5h-9.47zM98.29 487.8h9.47v2.8h-9.47zM107.76 489.3h9.47v1.3h-9.47zM117.23 489.6h9.47v1h-9.47zM126.7 489.7h9.47v0.9h-9.47zM136.17 489.7h9.47v0.9h-9.47zM145.64 489.7h9.47v0.9h-9.47zM155.11 489.7h9.47v0.9h-9.47zM164.58 489.7h9.47v0.9h-9.47zM174.05 489.7h9.47v0.9h-9.47zM183.52 489.7h9.47v0.9h-9.47zM192.99 489.7h9.47v0.9h-9.47zM202.46 489.7h9.47v0.9h-9.47zM211.93 489.7h9.47v0.9h-9.47zM221.4 489.7h9.47v0.9h-9.47zM230.87 489.7h9.47v0.9h-9.47zM240.34 489.6h9.47v1h-9.47zM249.81 489h9.47v1.6h-9.47zM259.28 487.3h9.47v3.3h-9.47zM268.75 483.6h9.47v7h-9.47zM278.22 468.8h9.47v21.8h-9.47zM287.69 460.2h9.47v30.4h-9.47zM297.16 454.1h9.47v36.5h-9.47zM306.63 432.2h9.47v58.4h-9.47z" fill="#68c4eb"/>
<polyline points="32,432.75 34.4,432.79 36.8,432.93 39.2,433.15 41.6,433.46 44,433.86 46.4,434.34 48.8,434.91 51.2,435.56 53.6,436.29 56,437.1 58.4,437.99 60.8,438.96 63.2,439.99 65.6,441.1 68,442.27 70.4,443.5 72.8,444.8 75.2,446.15 77.6,447.55 80,449 82.4,450.5 84.8,452.03 87.2,453.6 89.6,455.21 92,456.84 94.4,458.49 96.8,460.17 99.2,461.85 101.6,463.55 104,465.25 106.4,466.95 108.8,468.65 111.2,470.33 113.6,472.01 116,473.66 118.4,475.29 120.8,476.9 123.2,478.47 125.6,480 128,481.5 130.4,482.95 132.8,484.35 135.2,485.7 137.6,487 140,488.23 142.4,489.4 144.8,490.51 147.2,491.54 149.6,492.51 152,493.4 154.4,494.21 156.8,494.94 159.2,495.59 161.6,496.16 164,496.64 166.4,497.04 168.8,497.35 171.2,497.57 173.6,497.71 176,497.75 178.4,497.71 180.8,497.57 183.2,497.35 185.6,497.04 188,496.64 190.4,496.16 192.8,495.59 195.2,494.94 197.6,494.21 200,493.4 202.4,492.51 204.8,491.54 207.2,490.51 209.6,489.4 212,488.23 214.4,487 216.8,485.7 219.2,484.35 221.6,482.95 224,481.5 226.4,480 228.8,478.47 231.2,476.9 233.6,475.29 236,473.66 238.4,472.01 240.8,470.33 243.2,468.65 245.6,466.95 248,465.25 250.4,463.55 252.8,461.85 255.2,460.17 257.6,458.49 260,456.84 262.4,455.21 264.8,453.6 267.2,452.03 269.6,450.5 272,449 274.4,447.55 276.8,446.15 279.2,444.8 281.6,443.5 284,442.27 286.4,441.1 288.8,439.99 291.2,438.96 293.6,437.99 296,437.1 298.4,436.29 300.8,435.56 303.2,434.91 305.6,434.34 308,433.86 310.4,433.46 312.8,433.15 315.2,432.93 317.6,432.79 320,432.75" fill="none" stroke="#e5323c" stroke-width="1.05"/>
<polyline points="32,464.15 34.4,464.24 36.8,464.37 39.2,464.55 41.6,464.77 44,465.04 46.4,465.35 48.8,465.7 51.2,466.09 53.6,466.52 56,466.99 58.4,467.5 60.8,468.04 63.2,468.62 65.6,469.23 68,469.87 70.4,470.55 72.8,471.25 75.2,471.97 77.6,472.72 80,473.49 82.4,474.28 84.8,475.09 87.2,475.91 89.6,476.75 92,477.6 94.4,478.45 96.8,479.32 99.2,480.18 101.6,481.05 104,481.91 106.4,482.77 108.8,483.63 111.2,484.48 113.6,485.32 116,486.14 118.4,486.95 120.8,487.74 123.2,488.52 125.6,489.27 128,489.99 130.4,490.7 132.8,491.37 135.2,492.02 137.6,492.63 140,493.21 142.4,493.76 144.8,494.27 147.2,494.74 149.6,495.18 152,495.57 154.4,495.93 156.8,496.24 159.2,496.51 161.6,496.73 164,496.92 166.4,497.05 168.8,497.15 171.2,497.19 173.6,497.2 176,497.15 178.4,497.06 180.8,496.93 183.2,496.75 185.6,496.53 188,496.26 190.4,495.95 192.8,495.6 195.2,495.21 197.6,494.78 200,494.31 202.4,493.8 204.8,493.26 207.2,492.68 209.6,492.07 212,491.43 214.4,490.75 216.8,490.05 219.2,489.33 221.6,488.58 224,487.81 226.4,487.02 228.8,486.21 231.2,485.39 233.6,484.55 236,483.7 238.4,482.85 240.8,481.98 243.2,481.12 245.6,480.25 248,479.39 250.4,478.53 252.8,477.67 255.2,476.82 257.6,475.98 260,475.16 262.4,474.35 264.8,473.56 267.2,472.78 269.6,472.03 272,471.31 274.4,470.6 276.8,469.93 279.2,469.28 281.6,468.67 284,468.09 286.4,467.54 288.8,467.03 291.2,466.56 293.6,466.12 296,465.73 298.4,465.37 300.8,465.06 303.2,464.79 305.6,464.57 308,464.38 310.4,464.25 312.8,464.15 315.2,464.11 317.6,464.1 320,464.15" fill="none" stroke="#1e7d32" stroke-width="1.35" stroke-dasharray="4.8 2.07"/>
<line x1="316.5" y1="429.5" x2="316.5" y2="501" stroke="#1e7d32" stroke-width="1.4"/>
<rect x="32" y="429.5" width="288" height="71.5" fill="none" stroke="#000" stroke-width="0.75"/>
<line x1="32" y1="501" x2="32" y2="502.8" stroke="#000" stroke-width="0.8"/>
<text x="32" y="511.3" text-anchor="middle" font-size="9.8" fill="#262626" stroke="#262626">0</text>
<line x1="89.6" y1="501" x2="89.6" y2="502.8" stroke="#000" stroke-width="0.8"/>
<text x="89.6" y="511.3" text-anchor="middle" font-size="9.8" fill="#262626" stroke="#262626">2</text>
<line x1="147.2" y1="501" x2="147.2" y2="502.8" stroke="#000" stroke-width="0.8"/>
<text x="147.2" y="511.3" text-anchor="middle" font-size="9.8" fill="#262626" stroke="#262626">4</text>
<line x1="204.8" y1="501" x2="204.8" y2="502.8" stroke="#000" stroke-width="0.8"/>
<text x="204.8" y="511.3" text-anchor="middle" font-size="9.8" fill="#262626" stroke="#262626">6</text>
<line x1="262.4" y1="501" x2="262.4" y2="502.8" stroke="#000" stroke-width="0.8"/>
<text x="262.4" y="511.3" text-anchor="middle" font-size="9.8" fill="#262626" stroke="#262626">8</text>
<line x1="320" y1="501" x2="320" y2="502.8" stroke="#000" stroke-width="0.8"/>
<text x="320" y="511.3" text-anchor="middle" font-size="9.8" fill="#262626" stroke="#262626">10</text>
<line x1="30.2" y1="490.4" x2="32" y2="490.4" stroke="#000" stroke-width="0.8"/>
<text x="30" y="494.7" text-anchor="end" font-size="9.7" fill="#1f77b4" stroke="#1f77b4">0</text>
<line x1="30.2" y1="445.6" x2="32" y2="445.6" stroke="#000" stroke-width="0.8"/>
<text x="30" y="449.9" text-anchor="end" font-size="9.7" fill="#1f77b4" stroke="#1f77b4">500</text>
<line x1="320" y1="443.59" x2="321.8" y2="443.59" stroke="#000" stroke-width="0.8"/>
<text x="322.4" y="448.39" font-size="9.7" fill="#e5323c" stroke="#e5323c">4</text>
<line x1="320" y1="486.91" x2="321.8" y2="486.91" stroke="#000" stroke-width="0.8"/>
<text x="322.4" y="491.71" font-size="9.7" fill="#e5323c" stroke="#e5323c">2</text>
<text transform="translate(6.9 465.65) rotate(-90)" text-anchor="middle" font-size="9.5" fill="#1f77b4" stroke="#1f77b4"><tspan font-style="italic">r</tspan><tspan font-style="italic" font-size="6.65" dy="2.4">ins</tspan><tspan dy="-2.4"> (sp/s)</tspan></text>
<text transform="translate(338 465.65) rotate(-90)" text-anchor="middle" font-size="9.7" fill="#e5323c" stroke="#e5323c"><tspan font-style="italic">I</tspan> (nA)</text>
<text x="92.98" y="427.6" font-size="12.3" fill="#262626" stroke="#262626">RS</text>
<text x="192.98" y="427.6" font-size="12.3" fill="#262626" stroke="#262626" font-style="italic">f</text>
<text x="199.08" y="427.6" font-size="12.3" fill="#262626" stroke="#262626">=</text>
<text x="215.98" y="427.6" font-size="12.3" fill="#262626" stroke="#262626">100 Hz</text>
<text x="68.1" y="436.8" font-size="9.5" fill="#0f752d" stroke="#0f752d">Peak of the fitted curve occurs at 9.87852 ms</text>
<text x="68.1" y="446.6" font-size="9.5" fill="#0f752d" stroke="#0f752d" xml:space="preserve">Phase shift 4.37316<tspan font-size="6.8" dx="1.2" dy="-3.6">∘</tspan><tspan dx="0.6" dy="3.6"> (advanced)</tspan></text></g>
<g><path d="M378.4 15.6h9.59v64h-9.59zM387.99 68.8h9.59v10.8h-9.59zM397.57 64.2h9.59v15.4h-9.59zM407.16 65.9h9.59v13.7h-9.59zM416.75 66.8h9.59v12.8h-9.59zM426.33 67.7h9.59v11.9h-9.59zM435.92 74.1h9.59v5.5h-9.59zM445.51 73.1h9.59v6.5h-9.59zM455.09 73.8h9.59v5.8h-9.59zM464.68 76.9h9.59v2.7h-9.59zM474.27 76.4h9.59v3.2h-9.59zM483.85 75.9h9.59v3.7h-9.59zM493.44 78.3h9.59v1.3h-9.59zM503.03 78.7h9.59v0.9h-9.59zM512.61 78.7h9.59v0.9h-9.59zM522.2 78.7h9.59v0.9h-9.59zM531.79 78.7h9.59v0.9h-9.59zM541.37 77.4h9.59v2.2h-9.59zM550.96 76.4h9.59v3.2h-9.59zM560.55 73.2h9.59v6.4h-9.59zM570.13 73.3h9.59v6.3h-9.59zM579.72 71.8h9.59v7.8h-9.59zM589.31 69.9h9.59v9.7h-9.59zM598.89 66.6h9.59v13h-9.59zM608.48 66h9.59v13.6h-9.59zM618.07 67h9.59v12.6h-9.59zM627.65 58.2h9.59v21.4h-9.59zM637.24 59h9.59v20.6h-9.59zM646.83 67h9.59v12.6h-9.59zM656.41 66h9.59v13.6h-9.59z" fill="#68c4eb"/>
<polyline points="378.4,14.77 380.8,14.82 383.19,14.95 385.59,15.18 387.99,15.49 390.38,15.89 392.78,16.37 395.18,16.95 397.57,17.6 399.97,18.34 402.37,19.16 404.76,20.05 407.16,21.02 409.56,22.07 411.95,23.18 414.35,24.36 416.75,25.6 419.14,26.9 421.54,28.26 423.94,29.68 426.33,31.14 428.73,32.64 431.13,34.19 433.52,35.77 435.92,37.39 438.32,39.03 440.71,40.7 443.11,42.38 445.51,44.08 447.9,45.79 450.3,47.5 452.7,49.21 455.09,50.92 457.49,52.62 459.89,54.3 462.28,55.97 464.68,57.61 467.08,59.23 469.47,60.81 471.87,62.36 474.27,63.86 476.66,65.32 479.06,66.74 481.46,68.1 483.85,69.4 486.25,70.64 488.65,71.82 491.04,72.93 493.44,73.98 495.84,74.95 498.23,75.84 500.63,76.66 503.03,77.4 505.42,78.05 507.82,78.63 510.22,79.11 512.61,79.51 515.01,79.82 517.41,80.05 519.8,80.18 522.2,80.23 524.6,80.18 526.99,80.05 529.39,79.82 531.79,79.51 534.18,79.11 536.58,78.63 538.98,78.05 541.37,77.4 543.77,76.66 546.17,75.84 548.56,74.95 550.96,73.98 553.36,72.93 555.75,71.82 558.15,70.64 560.55,69.4 562.94,68.1 565.34,66.74 567.74,65.32 570.13,63.86 572.53,62.36 574.93,60.81 577.32,59.23 579.72,57.61 582.12,55.97 584.51,54.3 586.91,52.62 589.31,50.92 591.7,49.21 594.1,47.5 596.5,45.79 598.89,44.08 601.29,42.38 603.69,40.7 606.08,39.03 608.48,37.39 610.88,35.77 613.27,34.19 615.67,32.64 618.07,31.14 620.46,29.68 622.86,28.26 625.26,26.9 627.65,25.6 630.05,24.36 632.45,23.18 634.84,22.07 637.24,21.02 639.64,20.05 642.03,19.16 644.43,18.34 646.83,17.6 649.22,16.95 651.62,16.37 654.02,15.89 656.41,15.49 658.81,15.18 661.21,14.95 663.6,14.82 666,14.77" fill="none" stroke="#e5323c" stroke-width="1.05"/>
<polyline points="378.4,59.52 380.8,59.61 383.19,59.74 385.59,59.89 387.99,60.08 390.38,60.29 392.78,60.53 395.18,60.79 397.57,61.08 399.97,61.4 402.37,61.73 404.76,62.1 407.16,62.48 409.56,62.89 411.95,63.31 414.35,63.76 416.75,64.22 419.14,64.7 421.54,65.19 423.94,65.7 426.33,66.22 428.73,66.75 431.13,67.29 433.52,67.84 435.92,68.4 438.32,68.96 440.71,69.52 443.11,70.08 445.51,70.65 447.9,71.21 450.3,71.78 452.7,72.33 455.09,72.88 457.49,73.43 459.89,73.96 462.28,74.49 464.68,75 467.08,75.5 469.47,75.98 471.87,76.45 474.27,76.91 476.66,77.34 479.06,77.75 481.46,78.15 483.85,78.52 486.25,78.87 488.65,79.19 491.04,79.49 493.44,79.77 495.84,80.02 498.23,80.24 500.63,80.44 503.03,80.6 505.42,80.74 507.82,80.85 510.22,80.93 512.61,80.98 515.01,81 517.41,80.99 519.8,80.95 522.2,80.88 524.6,80.79 526.99,80.66 529.39,80.51 531.79,80.32 534.18,80.11 536.58,79.87 538.98,79.61 541.37,79.32 543.77,79 546.17,78.67 548.56,78.3 550.96,77.92 553.36,77.51 555.75,77.09 558.15,76.64 560.55,76.18 562.94,75.7 565.34,75.21 567.74,74.7 570.13,74.18 572.53,73.65 574.93,73.11 577.32,72.56 579.72,72 582.12,71.44 584.51,70.88 586.91,70.32 589.31,69.75 591.7,69.19 594.1,68.62 596.5,68.07 598.89,67.52 601.29,66.97 603.69,66.44 606.08,65.91 608.48,65.4 610.88,64.9 613.27,64.42 615.67,63.95 618.07,63.49 620.46,63.06 622.86,62.65 625.26,62.25 627.65,61.88 630.05,61.53 632.45,61.21 634.84,60.91 637.24,60.63 639.64,60.38 642.03,60.16 644.43,59.96 646.83,59.8 649.22,59.66 651.62,59.55 654.02,59.47 656.41,59.42 658.81,59.4 661.21,59.41 663.6,59.45 666,59.52" fill="none" stroke="#1e7d32" stroke-width="1.35" stroke-dasharray="4.8 2.07"/>
<line x1="659.3" y1="11.5" x2="659.3" y2="83.5" stroke="#1e7d32" stroke-width="1.4"/>
<rect x="378.4" y="11.5" width="287.6" height="72" fill="none" stroke="#000" stroke-width="0.75"/>
<line x1="378.4" y1="83.5" x2="378.4" y2="85.3" stroke="#000" stroke-width="0.8"/>
<text x="378.4" y="93.8" text-anchor="middle" font-size="9.8" fill="#262626" stroke="#262626">0</text>
<line x1="435.92" y1="83.5" x2="435.92" y2="85.3" stroke="#000" stroke-width="0.8"/>
<text x="435.92" y="93.8" text-anchor="middle" font-size="9.8" fill="#262626" stroke="#262626">200</text>
<line x1="493.44" y1="83.5" x2="493.44" y2="85.3" stroke="#000" stroke-width="0.8"/>
<text x="493.44" y="93.8" text-anchor="middle" font-size="9.8" fill="#262626" stroke="#262626">400</text>
<line x1="550.96" y1="83.5" x2="550.96" y2="85.3" stroke="#000" stroke-width="0.8"/>
<text x="550.96" y="93.8" text-anchor="middle" font-size="9.8" fill="#262626" stroke="#262626">600</text>
<line x1="608.48" y1="83.5" x2="608.48" y2="85.3" stroke="#000" stroke-width="0.8"/>
<text x="608.48" y="93.8" text-anchor="middle" font-size="9.8" fill="#262626" stroke="#262626">800</text>
<line x1="666" y1="83.5" x2="666" y2="85.3" stroke="#000" stroke-width="0.8"/>
<text x="666" y="93.8" text-anchor="middle" font-size="9.8" fill="#262626" stroke="#262626">1000</text>
<line x1="376.6" y1="79.3" x2="378.4" y2="79.3" stroke="#000" stroke-width="0.8"/>
<text x="375.65" y="83.6" text-anchor="end" font-size="9.7" fill="#1f77b4" stroke="#1f77b4">0</text>
<line x1="376.6" y1="33.4" x2="378.4" y2="33.4" stroke="#000" stroke-width="0.8"/>
<text x="375.65" y="37.7" text-anchor="end" font-size="9.7" fill="#1f77b4" stroke="#1f77b4">500</text>
<line x1="666" y1="25.68" x2="667.8" y2="25.68" stroke="#000" stroke-width="0.8"/>
<text x="668.4" y="30.48" font-size="9.7" fill="#e5323c" stroke="#e5323c">4</text>
<line x1="666" y1="69.32" x2="667.8" y2="69.32" stroke="#000" stroke-width="0.8"/>
<text x="668.4" y="74.12" font-size="9.7" fill="#e5323c" stroke="#e5323c">2</text>
<text transform="translate(352.6 47.9) rotate(-90)" text-anchor="middle" font-size="9.5" fill="#1f77b4" stroke="#1f77b4"><tspan font-style="italic">r</tspan><tspan font-style="italic" font-size="6.65" dy="2.4">ins</tspan><tspan dy="-2.4"> (sp/s)</tspan></text>
<text transform="translate(684 47.9) rotate(-90)" text-anchor="middle" font-size="9.7" fill="#e5323c" stroke="#e5323c"><tspan font-style="italic">I</tspan> (nA)</text>
<text x="449.15" y="9.6" font-size="12.3" fill="#262626" stroke="#262626">IB</text>
<text x="544.85" y="9.6" font-size="12.3" fill="#262626" stroke="#262626" font-style="italic">f</text>
<text x="550.95" y="9.6" font-size="12.3" fill="#262626" stroke="#262626">=</text>
<text x="567.85" y="9.6" font-size="12.3" fill="#262626" stroke="#262626">1 Hz</text>
<text x="413.7" y="20" font-size="9.5" fill="#0f752d" stroke="#0f752d">Peak of the fitted curve occurs at 975.97166 ms</text>
<text x="413.7" y="29.8" font-size="9.5" fill="#0f752d" stroke="#0f752d" xml:space="preserve">Phase shift 8.65020<tspan font-size="6.8" dx="1.2" dy="-3.6">∘</tspan><tspan dx="0.6" dy="3.6"> (advanced)</tspan></text></g>
<g><path d="M378.4 119.6h9.59v61.8h-9.59zM387.99 162.5h9.59v18.9h-9.59zM397.57 172.5h9.59v8.9h-9.59zM407.16 175.1h9.59v6.3h-9.59zM416.75 175.8h9.59v5.6h-9.59zM426.33 179.3h9.59v2.1h-9.59zM435.92 179.2h9.59v2.2h-9.59zM445.51 179.2h9.59v2.2h-9.59zM455.09 179.6h9.59v1.8h-9.59zM464.68 179.3h9.59v2.1h-9.59zM474.27 180.4h9.59v1h-9.59zM483.85 180.4h9.59v1h-9.59zM493.44 180.4h9.59v1h-9.59zM503.03 180.4h9.59v1h-9.59zM512.61 180.4h9.59v1h-9.59zM522.2 180.4h9.59v1h-9.59zM531.79 180h9.59v1.4h-9.59zM541.37 178.9h9.59v2.5h-9.59zM550.96 178h9.59v3.4h-9.59zM560.55 177.7h9.59v3.7h-9.59zM570.13 173h9.59v8.4h-9.59zM579.72 169.2h9.59v12.2h-9.59zM589.31 165.5h9.59v15.9h-9.59zM598.89 158h9.59v23.4h-9.59zM608.48 158h9.59v23.4h-9.59zM618.07 155h9.59v26.4h-9.59zM627.65 159.7h9.59v21.7h-9.59zM637.24 165.5h9.59v15.9h-9.59zM646.83 163.4h9.59v18h-9.59zM656.41 162.6h9.59v18.8h-9.59z" fill="#68c4eb"/>
<polyline points="378.4,119.73 380.8,119.77 383.19,119.9 385.59,120.12 387.99,120.43 390.38,120.83 392.78,121.31 395.18,121.87 397.57,122.52 399.97,123.24 402.37,124.05 404.76,124.93 407.16,125.89 409.56,126.92 411.95,128.02 414.35,129.18 416.75,130.41 419.14,131.69 421.54,133.03 423.94,134.42 426.33,135.86 428.73,137.35 431.13,138.87 433.52,140.43 435.92,142.03 438.32,143.65 440.71,145.29 443.11,146.95 445.51,148.63 447.9,150.31 450.3,152 452.7,153.69 455.09,155.37 457.49,157.05 459.89,158.71 462.28,160.35 464.68,161.97 467.08,163.57 469.47,165.13 471.87,166.65 474.27,168.14 476.66,169.58 479.06,170.97 481.46,172.31 483.85,173.59 486.25,174.82 488.65,175.98 491.04,177.08 493.44,178.11 495.84,179.07 498.23,179.95 500.63,180.76 503.03,181.48 505.42,182.13 507.82,182.69 510.22,183.17 512.61,183.57 515.01,183.88 517.41,184.1 519.8,184.23 522.2,184.27 524.6,184.23 526.99,184.1 529.39,183.88 531.79,183.57 534.18,183.17 536.58,182.69 538.98,182.13 541.37,181.48 543.77,180.76 546.17,179.95 548.56,179.07 550.96,178.11 553.36,177.08 555.75,175.98 558.15,174.82 560.55,173.59 562.94,172.31 565.34,170.97 567.74,169.58 570.13,168.14 572.53,166.65 574.93,165.13 577.32,163.57 579.72,161.97 582.12,160.35 584.51,158.71 586.91,157.05 589.31,155.37 591.7,153.69 594.1,152 596.5,150.31 598.89,148.63 601.29,146.95 603.69,145.29 606.08,143.65 608.48,142.03 610.88,140.43 613.27,138.87 615.67,137.35 618.07,135.86 620.46,134.42 622.86,133.03 625.26,131.69 627.65,130.41 630.05,129.18 632.45,128.02 634.84,126.92 637.24,125.89 639.64,124.93 642.03,124.05 644.43,123.24 646.83,122.52 649.22,121.87 651.62,121.31 654.02,120.83 656.41,120.43 658.81,120.12 661.21,119.9 663.6,119.77 666,119.73" fill="none" stroke="#e5323c" stroke-width="1.05"/>
<polyline points="378.4,160.04 380.8,160.41 383.19,160.8 385.59,161.23 387.99,161.69 390.38,162.17 392.78,162.68 395.18,163.21 397.57,163.76 399.97,164.34 402.37,164.93 404.76,165.55 407.16,166.18 409.56,166.82 411.95,167.48 414.35,168.14 416.75,168.82 419.14,169.5 421.54,170.19 423.94,170.88 426.33,171.58 428.73,172.27 431.13,172.96 433.52,173.65 435.92,174.33 438.32,175 440.71,175.66 443.11,176.32 445.51,176.95 447.9,177.58 450.3,178.18 452.7,178.77 455.09,179.34 457.49,179.89 459.89,180.41 462.28,180.91 464.68,181.38 467.08,181.83 469.47,182.24 471.87,182.63 474.27,182.99 476.66,183.31 479.06,183.6 481.46,183.86 483.85,184.09 486.25,184.28 488.65,184.44 491.04,184.56 493.44,184.64 495.84,184.69 498.23,184.7 500.63,184.67 503.03,184.61 505.42,184.52 507.82,184.38 510.22,184.22 512.61,184.01 515.01,183.77 517.41,183.5 519.8,183.2 522.2,182.86 524.6,182.49 526.99,182.1 529.39,181.67 531.79,181.21 534.18,180.73 536.58,180.22 538.98,179.69 541.37,179.14 543.77,178.56 546.17,177.97 548.56,177.35 550.96,176.72 553.36,176.08 555.75,175.42 558.15,174.76 560.55,174.08 562.94,173.4 565.34,172.71 567.74,172.02 570.13,171.32 572.53,170.63 574.93,169.94 577.32,169.25 579.72,168.57 582.12,167.9 584.51,167.24 586.91,166.58 589.31,165.95 591.7,165.32 594.1,164.72 596.5,164.13 598.89,163.56 601.29,163.01 603.69,162.49 606.08,161.99 608.48,161.52 610.88,161.07 613.27,160.66 615.67,160.27 618.07,159.91 620.46,159.59 622.86,159.3 625.26,159.04 627.65,158.81 630.05,158.62 632.45,158.46 634.84,158.34 637.24,158.26 639.64,158.21 642.03,158.2 644.43,158.23 646.83,158.29 649.22,158.38 651.62,158.52 654.02,158.68 656.41,158.89 658.81,159.13 661.21,159.4 663.6,159.7 666,160.04" fill="none" stroke="#1e7d32" stroke-width="1.35" stroke-dasharray="4.8 2.07"/>
<line x1="641.6" y1="116.5" x2="641.6" y2="187.5" stroke="#1e7d32" stroke-width="1.4"/>
<rect x="378.4" y="116.5" width="287.6" height="71" fill="none" stroke="#000" stroke-width="0.75"/>
<line x1="378.4" y1="187.5" x2="378.4" y2="189.3" stroke="#000" stroke-width="0.8"/>
<text x="378.4" y="197.8" text-anchor="middle" font-size="9.8" fill="#262626" stroke="#262626">0</text>
<line x1="414.35" y1="187.5" x2="414.35" y2="189.3" stroke="#000" stroke-width="0.8"/>
<text x="414.35" y="197.8" text-anchor="middle" font-size="9.8" fill="#262626" stroke="#262626">25</text>
<line x1="450.3" y1="187.5" x2="450.3" y2="189.3" stroke="#000" stroke-width="0.8"/>
<text x="450.3" y="197.8" text-anchor="middle" font-size="9.8" fill="#262626" stroke="#262626">50</text>
<line x1="486.25" y1="187.5" x2="486.25" y2="189.3" stroke="#000" stroke-width="0.8"/>
<text x="486.25" y="197.8" text-anchor="middle" font-size="9.8" fill="#262626" stroke="#262626">75</text>
<line x1="522.2" y1="187.5" x2="522.2" y2="189.3" stroke="#000" stroke-width="0.8"/>
<text x="522.2" y="197.8" text-anchor="middle" font-size="9.8" fill="#262626" stroke="#262626">100</text>
<line x1="558.15" y1="187.5" x2="558.15" y2="189.3" stroke="#000" stroke-width="0.8"/>
<text x="558.15" y="197.8" text-anchor="middle" font-size="9.8" fill="#262626" stroke="#262626">125</text>
<line x1="594.1" y1="187.5" x2="594.1" y2="189.3" stroke="#000" stroke-width="0.8"/>
<text x="594.1" y="197.8" text-anchor="middle" font-size="9.8" fill="#262626" stroke="#262626">150</text>
<line x1="630.05" y1="187.5" x2="630.05" y2="189.3" stroke="#000" stroke-width="0.8"/>
<text x="630.05" y="197.8" text-anchor="middle" font-size="9.8" fill="#262626" stroke="#262626">175</text>
<line x1="666" y1="187.5" x2="666" y2="189.3" stroke="#000" stroke-width="0.8"/>
<text x="666" y="197.8" text-anchor="middle" font-size="9.8" fill="#262626" stroke="#262626">200</text>
<line x1="376.6" y1="181.4" x2="378.4" y2="181.4" stroke="#000" stroke-width="0.8"/>
<text x="375.65" y="185.7" text-anchor="end" font-size="9.7" fill="#1f77b4" stroke="#1f77b4">0</text>
<line x1="376.6" y1="142.4" x2="378.4" y2="142.4" stroke="#000" stroke-width="0.8"/>
<text x="375.65" y="146.7" text-anchor="end" font-size="9.7" fill="#1f77b4" stroke="#1f77b4">500</text>
<line x1="666" y1="130.49" x2="667.8" y2="130.49" stroke="#000" stroke-width="0.8"/>
<text x="668.4" y="135.29" font-size="9.7" fill="#e5323c" stroke="#e5323c">4</text>
<line x1="666" y1="173.51" x2="667.8" y2="173.51" stroke="#000" stroke-width="0.8"/>
<text x="668.4" y="178.31" font-size="9.7" fill="#e5323c" stroke="#e5323c">2</text>
<text transform="translate(352.6 152.4) rotate(-90)" text-anchor="middle" font-size="9.5" fill="#1f77b4" stroke="#1f77b4"><tspan font-style="italic">r</tspan><tspan font-style="italic" font-size="6.65" dy="2.4">ins</tspan><tspan dy="-2.4"> (sp/s)</tspan></text>
<text transform="translate(684 152.4) rotate(-90)" text-anchor="middle" font-size="9.7" fill="#e5323c" stroke="#e5323c"><tspan font-style="italic">I</tspan> (nA)</text>
<text x="449.15" y="114.6" font-size="12.3" fill="#262626" stroke="#262626">IB</text>
<text x="544.85" y="114.6" font-size="12.3" fill="#262626" stroke="#262626" font-style="italic">f</text>
<text x="550.95" y="114.6" font-size="12.3" fill="#262626" stroke="#262626">=</text>
<text x="567.85" y="114.6" font-size="12.3" fill="#262626" stroke="#262626">5 Hz</text>
<text x="413.7" y="124.5" font-size="9.5" fill="#0f752d" stroke="#0f752d">Peak of the fitted curve occurs at 183.20554 ms</text>
<text x="413.7" y="134.3" font-size="9.5" fill="#0f752d" stroke="#0f752d" xml:space="preserve">Phase shift 30.23003<tspan font-size="6.8" dx="1.2" dy="-3.6">∘</tspan><tspan dx="0.6" dy="3.6"> (advanced)</tspan></text></g>
<g><path d="M378.4 223.8h9.59v59.6h-9.59zM387.99 258h9.59v25.4h-9.59zM397.57 267.2h9.59v16.2h-9.59zM407.16 275.7h9.59v7.7h-9.59zM416.75 277.5h9.59v5.9h-9.59zM426.33 280.1h9.59v3.3h-9.59zM435.92 280.9h9.59v2.5h-9.59zM445.51 282.1h9.59v1.3h-9.59zM455.09 282.4h9.59v1h-9.59zM464.68 282.5h9.59v0.9h-9.59zM474.27 282.5h9.59v0.9h-9.59zM483.85 282.5h9.59v0.9h-9.59zM493.44 282.5h9.59v0.9h-9.59zM503.03 282.5h9.59v0.9h-9.59zM512.61 282.5h9.59v0.9h-9.59zM522.2 282.5h9.59v0.9h-9.59zM531.79 282.5h9.59v0.9h-9.59zM541.37 282.5h9.59v0.9h-9.59zM550.96 282.4h9.59v1h-9.59zM560.55 279.6h9.59v3.8h-9.59zM570.13 276.9h9.59v6.5h-9.59zM579.72 271.7h9.59v11.7h-9.59zM589.31 263.8h9.59v19.6h-9.59zM598.89 257.4h9.59v26h-9.59zM608.48 252.8h9.59v30.6h-9.59zM618.07 253.9h9.59v29.5h-9.59zM627.65 247.3h9.59v36.1h-9.59zM637.24 257.7h9.59v25.7h-9.59zM646.83 255.4h9.59v28h-9.59zM656.41 256.9h9.59v26.5h-9.59z" fill="#68c4eb"/>
<polyline points="378.4,223.77 380.8,223.82 383.19,223.95 385.59,224.18 387.99,224.49 390.38,224.89 392.78,225.37 395.18,225.95 397.57,226.6 399.97,227.34 402.37,228.16 404.76,229.05 407.16,230.02 409.56,231.07 411.95,232.18 414.35,233.36 416.75,234.6 419.14,235.9 421.54,237.26 423.94,238.68 426.33,240.14 428.73,241.64 431.13,243.19 433.52,244.77 435.92,246.39 438.32,248.03 440.71,249.7 443.11,251.38 445.51,253.08 447.9,254.79 450.3,256.5 452.7,258.21 455.09,259.92 457.49,261.62 459.89,263.3 462.28,264.97 464.68,266.61 467.08,268.23 469.47,269.81 471.87,271.36 474.27,272.86 476.66,274.32 479.06,275.74 481.46,277.1 483.85,278.4 486.25,279.64 488.65,280.82 491.04,281.93 493.44,282.98 495.84,283.95 498.23,284.84 500.63,285.66 503.03,286.4 505.42,287.05 507.82,287.63 510.22,288.11 512.61,288.51 515.01,288.82 517.41,289.05 519.8,289.18 522.2,289.23 524.6,289.18 526.99,289.05 529.39,288.82 531.79,288.51 534.18,288.11 536.58,287.63 538.98,287.05 541.37,286.4 543.77,285.66 546.17,284.84 548.56,283.95 550.96,282.98 553.36,281.93 555.75,280.82 558.15,279.64 560.55,278.4 562.94,277.1 565.34,275.74 567.74,274.32 570.13,272.86 572.53,271.36 574.93,269.81 577.32,268.23 579.72,266.61 582.12,264.97 584.51,263.3 586.91,261.62 589.31,259.92 591.7,258.21 594.1,256.5 596.5,254.79 598.89,253.08 601.29,251.38 603.69,249.7 606.08,248.03 608.48,246.39 610.88,244.77 613.27,243.19 615.67,241.64 618.07,240.14 620.46,238.68 622.86,237.26 625.26,235.9 627.65,234.6 630.05,233.36 632.45,232.18 634.84,231.07 637.24,230.02 639.64,229.05 642.03,228.16 644.43,227.34 646.83,226.6 649.22,225.95 651.62,225.37 654.02,224.89 656.41,224.49 658.81,224.18 661.21,223.95 663.6,223.82 666,223.77" fill="none" stroke="#e5323c" stroke-width="1.05"/>
<polyline points="378.4,256.09 380.8,256.56 383.19,257.07 385.59,257.61 387.99,258.2 390.38,258.82 392.78,259.48 395.18,260.17 397.57,260.89 399.97,261.64 402.37,262.41 404.76,263.21 407.16,264.04 409.56,264.88 411.95,265.75 414.35,266.62 416.75,267.52 419.14,268.42 421.54,269.33 423.94,270.25 426.33,271.17 428.73,272.09 431.13,273.01 433.52,273.92 435.92,274.83 438.32,275.73 440.71,276.62 443.11,277.5 445.51,278.35 447.9,279.19 450.3,280.01 452.7,280.8 455.09,281.57 457.49,282.32 459.89,283.03 462.28,283.71 464.68,284.35 467.08,284.97 469.47,285.54 471.87,286.08 474.27,286.57 476.66,287.03 479.06,287.44 481.46,287.81 483.85,288.13 486.25,288.41 488.65,288.64 491.04,288.83 493.44,288.97 495.84,289.06 498.23,289.1 500.63,289.09 503.03,289.04 505.42,288.93 507.82,288.78 510.22,288.58 512.61,288.34 515.01,288.05 517.41,287.71 519.8,287.33 522.2,286.91 524.6,286.44 526.99,285.93 529.39,285.39 531.79,284.8 534.18,284.18 536.58,283.52 538.98,282.83 541.37,282.11 543.77,281.36 546.17,280.59 548.56,279.79 550.96,278.96 553.36,278.12 555.75,277.25 558.15,276.38 560.55,275.48 562.94,274.58 565.34,273.67 567.74,272.75 570.13,271.83 572.53,270.91 574.93,269.99 577.32,269.08 579.72,268.17 582.12,267.27 584.51,266.38 586.91,265.5 589.31,264.65 591.7,263.81 594.1,262.99 596.5,262.2 598.89,261.43 601.29,260.68 603.69,259.97 606.08,259.29 608.48,258.65 610.88,258.03 613.27,257.46 615.67,256.92 618.07,256.43 620.46,255.97 622.86,255.56 625.26,255.19 627.65,254.87 630.05,254.59 632.45,254.36 634.84,254.17 637.24,254.03 639.64,253.94 642.03,253.9 644.43,253.91 646.83,253.96 649.22,254.07 651.62,254.22 654.02,254.42 656.41,254.66 658.81,254.95 661.21,255.29 663.6,255.67 666,256.09" fill="none" stroke="#1e7d32" stroke-width="1.35" stroke-dasharray="4.8 2.07"/>
<line x1="642.9" y1="220.5" x2="642.9" y2="292.5" stroke="#1e7d32" stroke-width="1.4"/>
<rect x="378.4" y="220.5" width="287.6" height="72" fill="none" stroke="#000" stroke-width="0.75"/>
<line x1="378.4" y1="292.5" x2="378.4" y2="294.3" stroke="#000" stroke-width="0.8"/>
<text x="378.4" y="302.8" text-anchor="middle" font-size="9.8" fill="#262626" stroke="#262626">0</text>
<line x1="435.92" y1="292.5" x2="435.92" y2="294.3" stroke="#000" stroke-width="0.8"/>
<text x="435.92" y="302.8" text-anchor="middle" font-size="9.8" fill="#262626" stroke="#262626">20</text>
<line x1="493.44" y1="292.5" x2="493.44" y2="294.3" stroke="#000" stroke-width="0.8"/>
<text x="493.44" y="302.8" text-anchor="middle" font-size="9.8" fill="#262626" stroke="#262626">40</text>
<line x1="550.96" y1="292.5" x2="550.96" y2="294.3" stroke="#000" stroke-width="0.8"/>
<text x="550.96" y="302.8" text-anchor="middle" font-size="9.8" fill="#262626" stroke="#262626">60</text>
<line x1="608.48" y1="292.5" x2="608.48" y2="294.3" stroke="#000" stroke-width="0.8"/>
<text x="608.48" y="302.8" text-anchor="middle" font-size="9.8" fill="#262626" stroke="#262626">80</text>
<line x1="666" y1="292.5" x2="666" y2="294.3" stroke="#000" stroke-width="0.8"/>
<text x="666" y="302.8" text-anchor="middle" font-size="9.8" fill="#262626" stroke="#262626">100</text>
<line x1="376.6" y1="283.5" x2="378.4" y2="283.5" stroke="#000" stroke-width="0.8"/>
<text x="375.65" y="287.8" text-anchor="end" font-size="9.7" fill="#1f77b4" stroke="#1f77b4">0</text>
<line x1="376.6" y1="240.5" x2="378.4" y2="240.5" stroke="#000" stroke-width="0.8"/>
<text x="375.65" y="244.8" text-anchor="end" font-size="9.7" fill="#1f77b4" stroke="#1f77b4">500</text>
<line x1="666" y1="234.68" x2="667.8" y2="234.68" stroke="#000" stroke-width="0.8"/>
<text x="668.4" y="239.48" font-size="9.7" fill="#e5323c" stroke="#e5323c">4</text>
<line x1="666" y1="278.32" x2="667.8" y2="278.32" stroke="#000" stroke-width="0.8"/>
<text x="668.4" y="283.12" font-size="9.7" fill="#e5323c" stroke="#e5323c">2</text>
<text transform="translate(352.6 256.9) rotate(-90)" text-anchor="middle" font-size="9.5" fill="#1f77b4" stroke="#1f77b4"><tspan font-style="italic">r</tspan><tspan font-style="normal" font-size="6.65" dy="2.4">ins</tspan><tspan dy="-2.4"> (sp/s)</tspan></text>
<text transform="translate(684 256.9) rotate(-90)" text-anchor="middle" font-size="9.7" fill="#e5323c" stroke="#e5323c"><tspan font-style="italic">I</tspan> (nA)</text>
<text x="445.24" y="218.6" font-size="12.3" fill="#262626" stroke="#262626">IB</text>
<text x="540.94" y="218.6" font-size="12.3" fill="#262626" stroke="#262626" font-style="italic">f</text>
<text x="547.04" y="218.6" font-size="12.3" fill="#262626" stroke="#262626">=</text>
<text x="563.94" y="218.6" font-size="12.3" fill="#262626" stroke="#262626">10 Hz</text>
<text x="413.7" y="228.7" font-size="9.5" fill="#0f752d" stroke="#0f752d">Peak of the fitted curve occurs at 92.03830 ms</text>
<text x="413.7" y="238.5" font-size="9.5" fill="#0f752d" stroke="#0f752d" xml:space="preserve">Phase shift 28.66211<tspan font-size="6.8" dx="1.2" dy="-3.6">∘</tspan><tspan dx="0.6" dy="3.6"> (advanced)</tspan></text></g>
<g><path d="M378.4 344.4h9.55v39.9h-9.55zM387.95 343.4h9.55v40.9h-9.55zM397.5 360.5h9.55v23.8h-9.55zM407.05 369h9.55v15.3h-9.55zM416.6 375.9h9.55v8.4h-9.55zM426.15 382h9.55v2.3h-9.55zM435.7 383.1h9.55v1.2h-9.55zM445.25 383.4h9.55v0.9h-9.55zM454.8 383.4h9.55v0.9h-9.55zM464.35 383.4h9.55v0.9h-9.55zM473.9 383.4h9.55v0.9h-9.55zM483.45 383.4h9.55v0.9h-9.55zM493 383.4h9.55v0.9h-9.55zM502.55 383.4h9.55v0.9h-9.55zM512.1 383.4h9.55v0.9h-9.55zM521.65 383.4h9.55v0.9h-9.55zM531.2 383.4h9.55v0.9h-9.55zM540.75 383.4h9.55v0.9h-9.55zM550.3 383.4h9.55v0.9h-9.55zM559.85 383.4h9.55v0.9h-9.55zM569.4 383.4h9.55v0.9h-9.55zM578.95 383.4h9.55v0.9h-9.55zM588.5 382.3h9.55v2h-9.55zM598.05 378.2h9.55v6.1h-9.55zM607.6 374.2h9.55v10.1h-9.55zM617.15 355.9h9.55v28.4h-9.55zM626.7 344.1h9.55v40.2h-9.55zM636.25 341.8h9.55v42.5h-9.55zM645.8 328.1h9.55v56.2h-9.55zM655.35 333.9h9.55v50.4h-9.55z" fill="#68c4eb"/>
<polyline points="378.4,328.25 380.8,328.29 383.19,328.43 385.59,328.65 387.99,328.96 390.38,329.36 392.78,329.84 395.18,330.41 397.57,331.06 399.97,331.79 402.37,332.6 404.76,333.49 407.16,334.46 409.56,335.49 411.95,336.6 414.35,337.77 416.75,339 419.14,340.3 421.54,341.65 423.94,343.05 426.33,344.5 428.73,346 431.13,347.53 433.52,349.1 435.92,350.71 438.32,352.34 440.71,353.99 443.11,355.67 445.51,357.35 447.9,359.05 450.3,360.75 452.7,362.45 455.09,364.15 457.49,365.83 459.89,367.51 462.28,369.16 464.68,370.79 467.08,372.4 469.47,373.97 471.87,375.5 474.27,377 476.66,378.45 479.06,379.85 481.46,381.2 483.85,382.5 486.25,383.73 488.65,384.9 491.04,386.01 493.44,387.04 495.84,388.01 498.23,388.9 500.63,389.71 503.03,390.44 505.42,391.09 507.82,391.66 510.22,392.14 512.61,392.54 515.01,392.85 517.41,393.07 519.8,393.21 522.2,393.25 524.6,393.21 526.99,393.07 529.39,392.85 531.79,392.54 534.18,392.14 536.58,391.66 538.98,391.09 541.37,390.44 543.77,389.71 546.17,388.9 548.56,388.01 550.96,387.04 553.36,386.01 555.75,384.9 558.15,383.73 560.55,382.5 562.94,381.2 565.34,379.85 567.74,378.45 570.13,377 572.53,375.5 574.93,373.97 577.32,372.4 579.72,370.79 582.12,369.16 584.51,367.51 586.91,365.83 589.31,364.15 591.7,362.45 594.1,360.75 596.5,359.05 598.89,357.35 601.29,355.67 603.69,353.99 606.08,352.34 608.48,350.71 610.88,349.1 613.27,347.53 615.67,346 618.07,344.5 620.46,343.05 622.86,341.65 625.26,340.3 627.65,339 630.05,337.77 632.45,336.6 634.84,335.49 637.24,334.46 639.64,333.49 642.03,332.6 644.43,331.79 646.83,331.06 649.22,330.41 651.62,329.84 654.02,329.36 656.41,328.96 658.81,328.65 661.21,328.43 663.6,328.29 666,328.25" fill="none" stroke="#e5323c" stroke-width="1.05"/>
<polyline points="378.4,351.5 380.8,351.77 383.19,352.09 385.59,352.46 387.99,352.89 390.38,353.38 392.78,353.91 395.18,354.49 397.57,355.12 399.97,355.8 402.37,356.52 404.76,357.29 407.16,358.09 409.56,358.93 411.95,359.81 414.35,360.72 416.75,361.66 419.14,362.64 421.54,363.63 423.94,364.65 426.33,365.69 428.73,366.75 431.13,367.82 433.52,368.9 435.92,369.99 438.32,371.09 440.71,372.19 443.11,373.29 445.51,374.38 447.9,375.47 450.3,376.55 452.7,377.62 455.09,378.67 457.49,379.7 459.89,380.71 462.28,381.7 464.68,382.66 467.08,383.6 469.47,384.5 471.87,385.36 474.27,386.19 476.66,386.98 479.06,387.73 481.46,388.44 483.85,389.1 486.25,389.71 488.65,390.28 491.04,390.8 493.44,391.26 495.84,391.67 498.23,392.03 500.63,392.33 503.03,392.58 505.42,392.77 507.82,392.9 510.22,392.98 512.61,393 515.01,392.96 517.41,392.86 519.8,392.71 522.2,392.5 524.6,392.23 526.99,391.91 529.39,391.54 531.79,391.11 534.18,390.62 536.58,390.09 538.98,389.51 541.37,388.88 543.77,388.2 546.17,387.48 548.56,386.71 550.96,385.91 553.36,385.07 555.75,384.19 558.15,383.28 560.55,382.34 562.94,381.36 565.34,380.37 567.74,379.35 570.13,378.31 572.53,377.25 574.93,376.18 577.32,375.1 579.72,374.01 582.12,372.91 584.51,371.81 586.91,370.71 589.31,369.62 591.7,368.53 594.1,367.45 596.5,366.38 598.89,365.33 601.29,364.3 603.69,363.29 606.08,362.3 608.48,361.34 610.88,360.4 613.27,359.5 615.67,358.64 618.07,357.81 620.46,357.02 622.86,356.27 625.26,355.56 627.65,354.9 630.05,354.29 632.45,353.72 634.84,353.2 637.24,352.74 639.64,352.33 642.03,351.97 644.43,351.67 646.83,351.42 649.22,351.23 651.62,351.1 654.02,351.02 656.41,351 658.81,351.04 661.21,351.14 663.6,351.29 666,351.5" fill="none" stroke="#1e7d32" stroke-width="1.35" stroke-dasharray="4.8 2.07"/>
<line x1="656" y1="325" x2="656" y2="396.5" stroke="#1e7d32" stroke-width="1.4"/>
<rect x="378.4" y="325" width="287.6" height="71.5" fill="none" stroke="#000" stroke-width="0.75"/>
<line x1="378.4" y1="396.5" x2="378.4" y2="398.3" stroke="#000" stroke-width="0.8"/>
<text x="378.4" y="406.8" text-anchor="middle" font-size="9.8" fill="#262626" stroke="#262626">0.0</text>
<line x1="414.35" y1="396.5" x2="414.35" y2="398.3" stroke="#000" stroke-width="0.8"/>
<text x="414.35" y="406.8" text-anchor="middle" font-size="9.8" fill="#262626" stroke="#262626">2.5</text>
<line x1="450.3" y1="396.5" x2="450.3" y2="398.3" stroke="#000" stroke-width="0.8"/>
<text x="450.3" y="406.8" text-anchor="middle" font-size="9.8" fill="#262626" stroke="#262626">5.0</text>
<line x1="486.25" y1="396.5" x2="486.25" y2="398.3" stroke="#000" stroke-width="0.8"/>
<text x="486.25" y="406.8" text-anchor="middle" font-size="9.8" fill="#262626" stroke="#262626">7.5</text>
<line x1="522.2" y1="396.5" x2="522.2" y2="398.3" stroke="#000" stroke-width="0.8"/>
<text x="522.2" y="406.8" text-anchor="middle" font-size="9.8" fill="#262626" stroke="#262626">10.0</text>
<line x1="558.15" y1="396.5" x2="558.15" y2="398.3" stroke="#000" stroke-width="0.8"/>
<text x="558.15" y="406.8" text-anchor="middle" font-size="9.8" fill="#262626" stroke="#262626">12.5</text>
<line x1="594.1" y1="396.5" x2="594.1" y2="398.3" stroke="#000" stroke-width="0.8"/>
<text x="594.1" y="406.8" text-anchor="middle" font-size="9.8" fill="#262626" stroke="#262626">15.0</text>
<line x1="630.05" y1="396.5" x2="630.05" y2="398.3" stroke="#000" stroke-width="0.8"/>
<text x="630.05" y="406.8" text-anchor="middle" font-size="9.8" fill="#262626" stroke="#262626">17.5</text>
<line x1="666" y1="396.5" x2="666" y2="398.3" stroke="#000" stroke-width="0.8"/>
<text x="666" y="406.8" text-anchor="middle" font-size="9.8" fill="#262626" stroke="#262626">20.0</text>
<line x1="376.6" y1="384.4" x2="378.4" y2="384.4" stroke="#000" stroke-width="0.8"/>
<text x="375.65" y="388.7" text-anchor="end" font-size="9.7" fill="#1f77b4" stroke="#1f77b4">0</text>
<line x1="376.6" y1="348.2" x2="378.4" y2="348.2" stroke="#000" stroke-width="0.8"/>
<text x="375.65" y="352.5" text-anchor="end" font-size="9.7" fill="#1f77b4" stroke="#1f77b4">500</text>
<line x1="666" y1="339.09" x2="667.8" y2="339.09" stroke="#000" stroke-width="0.8"/>
<text x="668.4" y="343.89" font-size="9.7" fill="#e5323c" stroke="#e5323c">4</text>
<line x1="666" y1="382.41" x2="667.8" y2="382.41" stroke="#000" stroke-width="0.8"/>
<text x="668.4" y="387.21" font-size="9.7" fill="#e5323c" stroke="#e5323c">2</text>
<text transform="translate(352.6 361.15) rotate(-90)" text-anchor="middle" font-size="9.5" fill="#1f77b4" stroke="#1f77b4"><tspan font-style="italic">r</tspan><tspan font-style="normal" font-size="6.65" dy="2.4">ins</tspan><tspan dy="-2.4"> (sp/s)</tspan></text>
<text transform="translate(684 361.15) rotate(-90)" text-anchor="middle" font-size="9.7" fill="#e5323c" stroke="#e5323c"><tspan font-style="italic">I</tspan> (nA)</text>
<text x="445.24" y="323.1" font-size="12.3" fill="#262626" stroke="#262626">IB</text>
<text x="540.94" y="323.1" font-size="12.3" fill="#262626" stroke="#262626" font-style="italic">f</text>
<text x="547.04" y="323.1" font-size="12.3" fill="#262626" stroke="#262626">=</text>
<text x="563.94" y="323.1" font-size="12.3" fill="#262626" stroke="#262626">50 Hz</text>
<text x="413.7" y="332.8" font-size="9.5" fill="#0f752d" stroke="#0f752d">Peak of the fitted curve occurs at 19.31744 ms</text>
<text x="413.7" y="342.6" font-size="9.5" fill="#0f752d" stroke="#0f752d" xml:space="preserve">Phase shift 12.28614<tspan font-size="6.8" dx="1.2" dy="-3.6">∘</tspan><tspan dx="0.6" dy="3.6"> (advanced)</tspan></text></g>
<g><path d="M383.5 435.4h9.35v55h-9.35zM392.85 459.1h9.35v31.3h-9.35zM402.21 468.7h9.35v21.7h-9.35zM411.56 467.5h9.35v22.9h-9.35zM420.91 485.3h9.35v5.1h-9.35zM430.26 485h9.35v5.4h-9.35zM439.62 486.8h9.35v3.6h-9.35zM448.97 488.4h9.35v2h-9.35zM458.32 489.5h9.35v0.9h-9.35zM467.68 489.5h9.35v0.9h-9.35zM477.03 489.5h9.35v0.9h-9.35zM486.38 489.5h9.35v0.9h-9.35zM495.74 489.5h9.35v0.9h-9.35zM505.09 489.5h9.35v0.9h-9.35zM514.44 489.5h9.35v0.9h-9.35zM523.79 489.5h9.35v0.9h-9.35zM533.15 489.5h9.35v0.9h-9.35zM542.5 489.5h9.35v0.9h-9.35zM551.85 489.5h9.35v0.9h-9.35zM561.21 489.5h9.35v0.9h-9.35zM570.56 489.5h9.35v0.9h-9.35zM579.91 489.5h9.35v0.9h-9.35zM589.27 489.5h9.35v0.9h-9.35zM598.62 488.8h9.35v1.6h-9.35zM607.97 487.8h9.35v2.6h-9.35zM617.33 484h9.35v6.4h-9.35zM626.68 470.5h9.35v19.9h-9.35zM636.03 461.4h9.35v29h-9.35zM645.38 451h9.35v39.4h-9.35zM654.74 433.9h9.35v56.5h-9.35z" fill="#68c4eb"/>
<polyline points="383.5,433.63 385.85,433.68 388.2,433.81 390.56,434.03 392.91,434.34 395.26,434.73 397.61,435.21 399.96,435.78 402.31,436.43 404.67,437.15 407.02,437.96 409.37,438.85 411.72,439.8 414.07,440.83 416.42,441.93 418.77,443.1 421.13,444.32 423.48,445.61 425.83,446.95 428.18,448.35 430.53,449.79 432.88,451.28 435.24,452.8 437.59,454.37 439.94,455.96 442.29,457.59 444.64,459.23 447,460.89 449.35,462.57 451.7,464.26 454.05,465.95 456.4,467.64 458.75,469.33 461.11,471.01 463.46,472.67 465.81,474.31 468.16,475.94 470.51,477.53 472.86,479.1 475.22,480.62 477.57,482.11 479.92,483.55 482.27,484.95 484.62,486.29 486.97,487.58 489.33,488.8 491.68,489.97 494.03,491.07 496.38,492.1 498.73,493.05 501.08,493.94 503.44,494.75 505.79,495.47 508.14,496.12 510.49,496.69 512.84,497.17 515.19,497.56 517.55,497.87 519.9,498.09 522.25,498.22 524.6,498.27 526.95,498.22 529.3,498.09 531.65,497.87 534.01,497.56 536.36,497.17 538.71,496.69 541.06,496.12 543.41,495.47 545.76,494.75 548.12,493.94 550.47,493.05 552.82,492.1 555.17,491.07 557.52,489.97 559.88,488.8 562.23,487.58 564.58,486.29 566.93,484.95 569.28,483.55 571.63,482.11 573.99,480.62 576.34,479.1 578.69,477.53 581.04,475.94 583.39,474.31 585.74,472.67 588.1,471.01 590.45,469.33 592.8,467.64 595.15,465.95 597.5,464.26 599.85,462.57 602.21,460.89 604.56,459.23 606.91,457.59 609.26,455.96 611.61,454.37 613.96,452.8 616.32,451.28 618.67,449.79 621.02,448.35 623.37,446.95 625.72,445.61 628.07,444.32 630.43,443.1 632.78,441.93 635.13,440.83 637.48,439.8 639.83,438.85 642.18,437.96 644.54,437.15 646.89,436.43 649.24,435.78 651.59,435.21 653.94,434.73 656.29,434.34 658.65,434.03 661,433.81 663.35,433.68 665.7,433.63" fill="none" stroke="#e5323c" stroke-width="1.05"/>
<polyline points="383.5,462.51 385.85,462.56 388.2,462.66 390.56,462.8 392.91,463 395.26,463.24 397.61,463.53 399.96,463.86 402.31,464.24 404.67,464.66 407.02,465.12 409.37,465.62 411.72,466.17 414.07,466.75 416.42,467.37 418.77,468.02 421.13,468.71 423.48,469.42 425.83,470.17 428.18,470.95 430.53,471.74 432.88,472.57 435.24,473.41 437.59,474.27 439.94,475.15 442.29,476.04 444.64,476.94 447,477.85 449.35,478.77 451.7,479.69 454.05,480.61 456.4,481.53 458.75,482.45 461.11,483.36 463.46,484.26 465.81,485.15 468.16,486.02 470.51,486.88 472.86,487.72 475.22,488.54 477.57,489.34 479.92,490.11 482.27,490.85 484.62,491.57 486.97,492.25 489.33,492.9 491.68,493.51 494.03,494.09 496.38,494.63 498.73,495.13 501.08,495.59 503.44,496.01 505.79,496.38 508.14,496.71 510.49,496.99 512.84,497.23 515.19,497.41 517.55,497.56 519.9,497.65 522.25,497.7 524.6,497.69 526.95,497.64 529.3,497.54 531.65,497.4 534.01,497.2 536.36,496.96 538.71,496.67 541.06,496.34 543.41,495.96 545.76,495.54 548.12,495.08 550.47,494.58 552.82,494.03 555.17,493.45 557.52,492.83 559.88,492.18 562.23,491.49 564.58,490.78 566.93,490.03 569.28,489.25 571.63,488.46 573.99,487.63 576.34,486.79 578.69,485.93 581.04,485.05 583.39,484.16 585.74,483.26 588.1,482.35 590.45,481.43 592.8,480.51 595.15,479.59 597.5,478.67 599.85,477.75 602.21,476.84 604.56,475.94 606.91,475.05 609.26,474.18 611.61,473.32 613.96,472.48 616.32,471.66 618.67,470.86 621.02,470.09 623.37,469.35 625.72,468.63 628.07,467.95 630.43,467.3 632.78,466.69 635.13,466.11 637.48,465.57 639.83,465.07 642.18,464.61 644.54,464.19 646.89,463.82 649.24,463.49 651.59,463.21 653.94,462.97 656.29,462.79 658.65,462.64 661,462.55 663.35,462.5 665.7,462.51" fill="none" stroke="#1e7d32" stroke-width="1.35" stroke-dasharray="4.8 2.07"/>
<line x1="664.4" y1="430.4" x2="664.4" y2="501.5" stroke="#1e7d32" stroke-width="1.4"/>
<rect x="383.5" y="430.4" width="282.2" height="71.1" fill="none" stroke="#000" stroke-width="0.75"/>
<line x1="383.5" y1="501.5" x2="383.5" y2="503.3" stroke="#000" stroke-width="0.8"/>
<text x="383.5" y="511.8" text-anchor="middle" font-size="9.6" fill="#262626" stroke="#262626">0</text>
<line x1="439.94" y1="501.5" x2="439.94" y2="503.3" stroke="#000" stroke-width="0.8"/>
<text x="439.94" y="511.8" text-anchor="middle" font-size="9.6" fill="#262626" stroke="#262626">2</text>
<line x1="496.38" y1="501.5" x2="496.38" y2="503.3" stroke="#000" stroke-width="0.8"/>
<text x="496.38" y="511.8" text-anchor="middle" font-size="9.6" fill="#262626" stroke="#262626">4</text>
<line x1="552.82" y1="501.5" x2="552.82" y2="503.3" stroke="#000" stroke-width="0.8"/>
<text x="552.82" y="511.8" text-anchor="middle" font-size="9.6" fill="#262626" stroke="#262626">6</text>
<line x1="609.26" y1="501.5" x2="609.26" y2="503.3" stroke="#000" stroke-width="0.8"/>
<text x="609.26" y="511.8" text-anchor="middle" font-size="9.6" fill="#262626" stroke="#262626">8</text>
<line x1="665.7" y1="501.5" x2="665.7" y2="503.3" stroke="#000" stroke-width="0.8"/>
<text x="665.7" y="511.8" text-anchor="middle" font-size="9.6" fill="#262626" stroke="#262626">10</text>
<line x1="381.7" y1="490.3" x2="383.5" y2="490.3" stroke="#000" stroke-width="0.8"/>
<text x="380.75" y="494.6" text-anchor="end" font-size="9.51" fill="#1f77b4" stroke="#1f77b4">0</text>
<line x1="381.7" y1="461.2" x2="383.5" y2="461.2" stroke="#000" stroke-width="0.8"/>
<text x="380.75" y="465.5" text-anchor="end" font-size="9.51" fill="#1f77b4" stroke="#1f77b4">500</text>
<line x1="381.7" y1="431.8" x2="383.5" y2="431.8" stroke="#000" stroke-width="0.8"/>
<text x="380.75" y="436.1" text-anchor="end" font-size="9.51" fill="#1f77b4" stroke="#1f77b4">1000</text>
<line x1="665.7" y1="444.41" x2="667.5" y2="444.41" stroke="#000" stroke-width="0.8"/>
<text x="668.1" y="449.21" font-size="9.51" fill="#e5323c" stroke="#e5323c">4</text>
<line x1="665.7" y1="487.49" x2="667.5" y2="487.49" stroke="#000" stroke-width="0.8"/>
<text x="668.1" y="492.29" font-size="9.51" fill="#e5323c" stroke="#e5323c">2</text>
<text transform="translate(353 466.35) rotate(-90)" text-anchor="middle" font-size="9.5" fill="#1f77b4" stroke="#1f77b4"><tspan font-style="italic">r</tspan><tspan font-style="normal" font-size="6.65" dy="2.4">ins</tspan><tspan dy="-2.4"> (sp/s)</tspan></text>
<text transform="translate(683.7 466.35) rotate(-90)" text-anchor="middle" font-size="9.51" fill="#e5323c" stroke="#e5323c"><tspan font-style="italic">I</tspan> (nA)</text>
<text x="445.36" y="428.5" font-size="12.05" fill="#262626" stroke="#262626">IB</text>
<text x="539.14" y="428.5" font-size="12.05" fill="#262626" stroke="#262626" font-style="italic">f</text>
<text x="545.12" y="428.5" font-size="12.05" fill="#262626" stroke="#262626">=</text>
<text x="561.68" y="428.5" font-size="12.05" fill="#262626" stroke="#262626">100 Hz</text>
<text x="418.1" y="437.7" font-size="9.31" fill="#0f752d" stroke="#0f752d">Peak of the fitted curve occurs at 9.95343 ms</text>
<text x="418.1" y="447.5" font-size="9.31" fill="#0f752d" stroke="#0f752d" xml:space="preserve">Phase shift 1.67643<tspan font-size="6.8" dx="1.2" dy="-3.6">∘</tspan><tspan dx="0.6" dy="3.6"> (advanced)</tspan></text></g>
</svg>
</body></html>
